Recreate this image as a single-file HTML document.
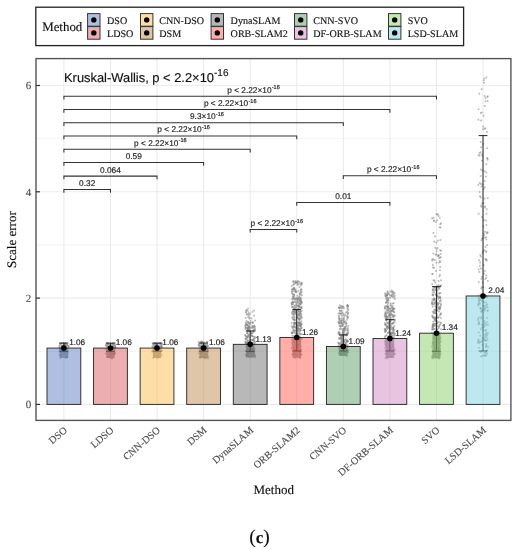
<!DOCTYPE html><html><head><meta charset="utf-8"><style>
html,body{margin:0;padding:0;background:#fff;}body{width:519px;height:550px;overflow:hidden;}
svg{display:block;}text{text-rendering:geometricPrecision;}
.s{font-family:"Liberation Sans",sans-serif;stroke:#222;stroke-width:0.16px;}
.r{font-family:"Liberation Serif",serif;stroke:#111;stroke-width:0.14px;}.g{stroke:#4d4d4d;}
</style></head><body>
<svg width="519" height="550" viewBox="0 0 519 550">
<defs><filter id="bl" filterUnits="userSpaceOnUse" x="0" y="0" width="519" height="550"><feGaussianBlur stdDeviation="0.45"/></filter></defs>
<rect x="0" y="0" width="519" height="550" fill="#fff"/>
<g filter="url(#bl)">
<rect x="35.8" y="7.2" width="427.8" height="38.4" fill="#fff" stroke="#222" stroke-width="1.3"/>
<text class="r" x="42.2" y="31.0" font-size="12.9" fill="#111">Method</text>
<rect x="87.6" y="13.6" width="12.4" height="12.6" fill="#afbfe1" stroke="#333" stroke-width="1"/>
<circle cx="93.8" cy="19.9" r="2.7" fill="#000"/>
<text class="r" x="107.0" y="23.5" font-size="10.1" fill="#111">DSO</text>
<rect x="87.6" y="26.6" width="12.4" height="12.6" fill="#edaeb2" stroke="#333" stroke-width="1"/>
<circle cx="93.8" cy="32.9" r="2.7" fill="#000"/>
<text class="r" x="107.0" y="36.7" font-size="10.1" fill="#111">LDSO</text>
<rect x="140.5" y="13.6" width="12.4" height="12.6" fill="#fedea7" stroke="#333" stroke-width="1"/>
<circle cx="146.7" cy="19.9" r="2.7" fill="#000"/>
<text class="r" x="159.3" y="23.5" font-size="10.1" fill="#111">CNN-DSO</text>
<rect x="140.5" y="26.6" width="12.4" height="12.6" fill="#dfc6a8" stroke="#333" stroke-width="1"/>
<circle cx="146.7" cy="32.9" r="2.7" fill="#000"/>
<text class="r" x="159.3" y="36.7" font-size="10.1" fill="#111">DSM</text>
<rect x="211.1" y="13.6" width="12.4" height="12.6" fill="#b7b7b7" stroke="#333" stroke-width="1"/>
<circle cx="217.3" cy="19.9" r="2.7" fill="#000"/>
<text class="r" x="230.6" y="23.5" font-size="10.1" fill="#111">DynaSLAM</text>
<rect x="211.1" y="26.6" width="12.4" height="12.6" fill="#ffaea8" stroke="#333" stroke-width="1"/>
<circle cx="217.3" cy="32.9" r="2.7" fill="#000"/>
<text class="r" x="230.6" y="36.7" font-size="10.1" fill="#111">ORB-SLAM2</text>
<rect x="294.5" y="13.6" width="12.4" height="12.6" fill="#aecfb4" stroke="#333" stroke-width="1"/>
<circle cx="300.7" cy="19.9" r="2.7" fill="#000"/>
<text class="r" x="313.2" y="23.5" font-size="10.1" fill="#111">CNN-SVO</text>
<rect x="294.5" y="26.6" width="12.4" height="12.6" fill="#e8c4e0" stroke="#333" stroke-width="1"/>
<circle cx="300.7" cy="32.9" r="2.7" fill="#000"/>
<text class="r" x="313.2" y="36.7" font-size="10.1" fill="#111">DF-ORB-SLAM</text>
<rect x="388.5" y="13.6" width="12.4" height="12.6" fill="#c4e7b4" stroke="#333" stroke-width="1"/>
<circle cx="394.7" cy="19.9" r="2.7" fill="#000"/>
<text class="r" x="407.7" y="23.5" font-size="10.1" fill="#111">SVO</text>
<rect x="388.5" y="26.6" width="12.4" height="12.6" fill="#bde8f0" stroke="#333" stroke-width="1"/>
<circle cx="394.7" cy="32.9" r="2.7" fill="#000"/>
<text class="r" x="407.7" y="36.7" font-size="10.1" fill="#111">LSD-SLAM</text>
<g stroke="#ebebeb" fill="none">
<line x1="36.0" x2="510.9" y1="351.25" y2="351.25" stroke-width="0.6"/>
<line x1="36.0" x2="510.9" y1="244.95" y2="244.95" stroke-width="0.6"/>
<line x1="36.0" x2="510.9" y1="138.65" y2="138.65" stroke-width="0.6"/>
<line x1="36.0" x2="510.9" y1="404.40" y2="404.40" stroke-width="1.1"/>
<line x1="36.0" x2="510.9" y1="298.10" y2="298.10" stroke-width="1.1"/>
<line x1="36.0" x2="510.9" y1="191.80" y2="191.80" stroke-width="1.1"/>
<line x1="36.0" x2="510.9" y1="85.50" y2="85.50" stroke-width="1.1"/>
<line x1="63.90" x2="63.90" y1="58.6" y2="420.4" stroke-width="1.1"/>
<line x1="110.47" x2="110.47" y1="58.6" y2="420.4" stroke-width="1.1"/>
<line x1="157.04" x2="157.04" y1="58.6" y2="420.4" stroke-width="1.1"/>
<line x1="203.61" x2="203.61" y1="58.6" y2="420.4" stroke-width="1.1"/>
<line x1="250.18" x2="250.18" y1="58.6" y2="420.4" stroke-width="1.1"/>
<line x1="296.75" x2="296.75" y1="58.6" y2="420.4" stroke-width="1.1"/>
<line x1="343.32" x2="343.32" y1="58.6" y2="420.4" stroke-width="1.1"/>
<line x1="389.89" x2="389.89" y1="58.6" y2="420.4" stroke-width="1.1"/>
<line x1="436.46" x2="436.46" y1="58.6" y2="420.4" stroke-width="1.1"/>
<line x1="483.03" x2="483.03" y1="58.6" y2="420.4" stroke-width="1.1"/>
</g>
<rect x="59.70" y="348.06" width="8.40" height="9.94" fill="#9a9a9a"/>
<rect x="106.27" y="348.06" width="8.40" height="9.94" fill="#9a9a9a"/>
<rect x="152.84" y="348.06" width="8.40" height="9.94" fill="#9a9a9a"/>
<rect x="199.41" y="348.06" width="8.40" height="9.94" fill="#9a9a9a"/>
<rect x="245.98" y="344.34" width="8.40" height="13.06" fill="#9a9a9a"/>
<rect x="292.45" y="337.43" width="8.60" height="20.37" fill="#9a9a9a"/>
<rect x="339.12" y="346.47" width="8.40" height="9.53" fill="#9a9a9a"/>
<rect x="385.59" y="338.49" width="8.60" height="19.51" fill="#9a9a9a"/>
<rect x="432.46" y="333.18" width="8.00" height="24.82" fill="#9a9a9a"/>
<g fill="#858585" fill-opacity="0.54">
<circle cx="60.4" cy="344.6" r="1.0"/>
<circle cx="59.6" cy="346.3" r="1.0"/>
<circle cx="62.6" cy="345.7" r="1.0"/>
<circle cx="64.0" cy="343.3" r="1.0"/>
<circle cx="63.2" cy="343.2" r="1.0"/>
<circle cx="59.8" cy="343.3" r="1.0"/>
<circle cx="67.2" cy="345.1" r="1.0"/>
<circle cx="61.1" cy="343.6" r="1.0"/>
<circle cx="68.4" cy="346.1" r="1.0"/>
<circle cx="62.9" cy="345.9" r="1.0"/>
<circle cx="59.4" cy="347.9" r="1.0"/>
<circle cx="61.8" cy="347.3" r="1.0"/>
<circle cx="60.1" cy="343.7" r="1.0"/>
<circle cx="67.1" cy="344.5" r="1.0"/>
<circle cx="64.7" cy="343.9" r="1.0"/>
<circle cx="62.6" cy="346.2" r="1.0"/>
<circle cx="59.5" cy="345.7" r="1.0"/>
<circle cx="61.0" cy="343.3" r="1.0"/>
<circle cx="63.2" cy="346.4" r="1.0"/>
<circle cx="64.8" cy="344.6" r="1.0"/>
<circle cx="61.9" cy="345.3" r="1.0"/>
<circle cx="65.9" cy="347.0" r="1.0"/>
<circle cx="64.6" cy="344.2" r="1.0"/>
<circle cx="67.7" cy="345.6" r="1.0"/>
<circle cx="61.8" cy="346.6" r="1.0"/>
<circle cx="60.1" cy="347.9" r="1.0"/>
<circle cx="66.5" cy="345.1" r="1.0"/>
<circle cx="63.8" cy="343.8" r="1.0"/>
<circle cx="65.6" cy="343.2" r="1.0"/>
<circle cx="64.6" cy="346.8" r="1.0"/>
<circle cx="62.0" cy="347.4" r="1.0"/>
<circle cx="64.8" cy="346.5" r="1.0"/>
<circle cx="63.5" cy="345.9" r="1.0"/>
<circle cx="68.3" cy="347.2" r="1.0"/>
<circle cx="65.5" cy="345.4" r="1.0"/>
<circle cx="65.9" cy="343.3" r="1.0"/>
<circle cx="68.8" cy="346.2" r="1.0"/>
<circle cx="61.7" cy="347.1" r="1.0"/>
<circle cx="65.6" cy="344.9" r="1.0"/>
<circle cx="63.5" cy="343.1" r="1.0"/>
<circle cx="60.1" cy="349.8" r="1.0"/>
<circle cx="66.6" cy="348.7" r="1.0"/>
<circle cx="61.4" cy="349.4" r="1.0"/>
<circle cx="67.6" cy="352.2" r="1.0"/>
<circle cx="63.4" cy="348.9" r="1.0"/>
<circle cx="67.7" cy="353.9" r="1.0"/>
<circle cx="67.5" cy="356.7" r="1.0"/>
<circle cx="63.1" cy="351.0" r="1.0"/>
<circle cx="67.7" cy="351.8" r="1.0"/>
<circle cx="60.4" cy="358.2" r="1.0"/>
<circle cx="61.2" cy="349.9" r="1.0"/>
<circle cx="63.7" cy="350.5" r="1.0"/>
<circle cx="61.5" cy="354.3" r="1.0"/>
<circle cx="63.1" cy="348.1" r="1.0"/>
<circle cx="64.6" cy="352.0" r="1.0"/>
<circle cx="65.8" cy="358.1" r="1.0"/>
<circle cx="65.1" cy="353.5" r="1.0"/>
<circle cx="59.4" cy="355.2" r="1.0"/>
<circle cx="66.7" cy="357.5" r="1.0"/>
<circle cx="66.9" cy="357.3" r="1.0"/>
<circle cx="62.9" cy="352.2" r="1.0"/>
<circle cx="65.2" cy="349.2" r="1.0"/>
<circle cx="59.6" cy="348.7" r="1.0"/>
<circle cx="60.5" cy="350.3" r="1.0"/>
<circle cx="59.4" cy="351.6" r="1.0"/>
<circle cx="60.4" cy="348.1" r="1.0"/>
<circle cx="62.5" cy="349.1" r="1.0"/>
<circle cx="67.6" cy="348.3" r="1.0"/>
<circle cx="60.4" cy="354.5" r="1.0"/>
<circle cx="62.4" cy="350.7" r="1.0"/>
<circle cx="60.1" cy="351.9" r="1.0"/>
<circle cx="115.4" cy="347.2" r="1.0"/>
<circle cx="110.3" cy="345.3" r="1.0"/>
<circle cx="106.5" cy="343.4" r="1.0"/>
<circle cx="108.1" cy="344.7" r="1.0"/>
<circle cx="107.1" cy="347.1" r="1.0"/>
<circle cx="115.0" cy="343.1" r="1.0"/>
<circle cx="106.9" cy="345.6" r="1.0"/>
<circle cx="105.7" cy="345.7" r="1.0"/>
<circle cx="115.3" cy="345.6" r="1.0"/>
<circle cx="112.4" cy="347.3" r="1.0"/>
<circle cx="109.1" cy="344.3" r="1.0"/>
<circle cx="113.2" cy="343.8" r="1.0"/>
<circle cx="113.3" cy="345.7" r="1.0"/>
<circle cx="107.7" cy="344.6" r="1.0"/>
<circle cx="115.3" cy="347.1" r="1.0"/>
<circle cx="113.5" cy="347.3" r="1.0"/>
<circle cx="112.9" cy="347.1" r="1.0"/>
<circle cx="110.6" cy="344.1" r="1.0"/>
<circle cx="105.8" cy="344.8" r="1.0"/>
<circle cx="108.3" cy="343.1" r="1.0"/>
<circle cx="112.4" cy="344.3" r="1.0"/>
<circle cx="109.9" cy="347.8" r="1.0"/>
<circle cx="115.4" cy="347.7" r="1.0"/>
<circle cx="109.1" cy="347.8" r="1.0"/>
<circle cx="107.7" cy="344.1" r="1.0"/>
<circle cx="107.5" cy="344.0" r="1.0"/>
<circle cx="114.5" cy="346.1" r="1.0"/>
<circle cx="110.3" cy="347.2" r="1.0"/>
<circle cx="113.5" cy="346.3" r="1.0"/>
<circle cx="112.1" cy="343.4" r="1.0"/>
<circle cx="113.3" cy="347.5" r="1.0"/>
<circle cx="110.3" cy="346.8" r="1.0"/>
<circle cx="113.4" cy="343.9" r="1.0"/>
<circle cx="113.5" cy="344.7" r="1.0"/>
<circle cx="109.4" cy="347.9" r="1.0"/>
<circle cx="114.9" cy="345.0" r="1.0"/>
<circle cx="107.2" cy="346.6" r="1.0"/>
<circle cx="107.0" cy="343.6" r="1.0"/>
<circle cx="113.5" cy="347.5" r="1.0"/>
<circle cx="113.7" cy="343.7" r="1.0"/>
<circle cx="112.0" cy="358.4" r="1.0"/>
<circle cx="111.0" cy="351.8" r="1.0"/>
<circle cx="105.6" cy="349.4" r="1.0"/>
<circle cx="112.0" cy="358.3" r="1.0"/>
<circle cx="114.8" cy="353.6" r="1.0"/>
<circle cx="114.2" cy="352.6" r="1.0"/>
<circle cx="107.6" cy="356.8" r="1.0"/>
<circle cx="108.4" cy="350.7" r="1.0"/>
<circle cx="111.3" cy="350.6" r="1.0"/>
<circle cx="109.7" cy="350.8" r="1.0"/>
<circle cx="114.6" cy="349.4" r="1.0"/>
<circle cx="110.1" cy="351.8" r="1.0"/>
<circle cx="114.5" cy="354.2" r="1.0"/>
<circle cx="114.6" cy="352.5" r="1.0"/>
<circle cx="110.8" cy="353.3" r="1.0"/>
<circle cx="105.7" cy="353.6" r="1.0"/>
<circle cx="107.3" cy="352.7" r="1.0"/>
<circle cx="113.5" cy="348.1" r="1.0"/>
<circle cx="110.2" cy="349.9" r="1.0"/>
<circle cx="111.0" cy="355.7" r="1.0"/>
<circle cx="110.7" cy="351.5" r="1.0"/>
<circle cx="113.3" cy="353.9" r="1.0"/>
<circle cx="111.1" cy="349.2" r="1.0"/>
<circle cx="108.2" cy="350.7" r="1.0"/>
<circle cx="110.5" cy="356.2" r="1.0"/>
<circle cx="113.1" cy="354.0" r="1.0"/>
<circle cx="109.9" cy="357.7" r="1.0"/>
<circle cx="110.5" cy="354.5" r="1.0"/>
<circle cx="112.4" cy="353.5" r="1.0"/>
<circle cx="110.8" cy="352.8" r="1.0"/>
<circle cx="114.9" cy="353.1" r="1.0"/>
<circle cx="160.8" cy="346.5" r="1.0"/>
<circle cx="154.6" cy="347.7" r="1.0"/>
<circle cx="161.5" cy="345.8" r="1.0"/>
<circle cx="153.4" cy="347.2" r="1.0"/>
<circle cx="156.5" cy="343.6" r="1.0"/>
<circle cx="154.4" cy="343.4" r="1.0"/>
<circle cx="158.7" cy="343.4" r="1.0"/>
<circle cx="161.0" cy="346.9" r="1.0"/>
<circle cx="159.2" cy="343.8" r="1.0"/>
<circle cx="153.5" cy="346.3" r="1.0"/>
<circle cx="161.7" cy="347.4" r="1.0"/>
<circle cx="161.6" cy="344.1" r="1.0"/>
<circle cx="156.9" cy="345.0" r="1.0"/>
<circle cx="160.4" cy="347.9" r="1.0"/>
<circle cx="156.4" cy="343.8" r="1.0"/>
<circle cx="155.4" cy="345.6" r="1.0"/>
<circle cx="155.2" cy="344.0" r="1.0"/>
<circle cx="152.2" cy="346.6" r="1.0"/>
<circle cx="156.4" cy="345.8" r="1.0"/>
<circle cx="155.4" cy="343.1" r="1.0"/>
<circle cx="157.2" cy="346.1" r="1.0"/>
<circle cx="161.9" cy="343.3" r="1.0"/>
<circle cx="161.8" cy="346.9" r="1.0"/>
<circle cx="154.7" cy="343.5" r="1.0"/>
<circle cx="159.8" cy="343.2" r="1.0"/>
<circle cx="153.3" cy="344.4" r="1.0"/>
<circle cx="161.2" cy="345.1" r="1.0"/>
<circle cx="154.6" cy="347.1" r="1.0"/>
<circle cx="161.2" cy="343.7" r="1.0"/>
<circle cx="159.0" cy="345.9" r="1.0"/>
<circle cx="152.6" cy="343.4" r="1.0"/>
<circle cx="156.3" cy="346.4" r="1.0"/>
<circle cx="161.4" cy="343.4" r="1.0"/>
<circle cx="160.1" cy="346.2" r="1.0"/>
<circle cx="160.6" cy="343.4" r="1.0"/>
<circle cx="160.7" cy="343.3" r="1.0"/>
<circle cx="155.4" cy="345.3" r="1.0"/>
<circle cx="161.3" cy="345.8" r="1.0"/>
<circle cx="153.3" cy="344.3" r="1.0"/>
<circle cx="154.4" cy="345.6" r="1.0"/>
<circle cx="153.7" cy="349.2" r="1.0"/>
<circle cx="154.1" cy="348.6" r="1.0"/>
<circle cx="155.1" cy="351.3" r="1.0"/>
<circle cx="154.9" cy="356.1" r="1.0"/>
<circle cx="153.8" cy="353.3" r="1.0"/>
<circle cx="152.2" cy="351.7" r="1.0"/>
<circle cx="152.2" cy="350.7" r="1.0"/>
<circle cx="157.6" cy="355.8" r="1.0"/>
<circle cx="156.8" cy="350.1" r="1.0"/>
<circle cx="153.1" cy="357.9" r="1.0"/>
<circle cx="156.4" cy="356.7" r="1.0"/>
<circle cx="160.4" cy="353.3" r="1.0"/>
<circle cx="157.1" cy="352.2" r="1.0"/>
<circle cx="161.9" cy="355.3" r="1.0"/>
<circle cx="160.4" cy="351.7" r="1.0"/>
<circle cx="158.4" cy="355.5" r="1.0"/>
<circle cx="155.5" cy="352.3" r="1.0"/>
<circle cx="153.3" cy="348.6" r="1.0"/>
<circle cx="159.4" cy="348.8" r="1.0"/>
<circle cx="153.7" cy="350.8" r="1.0"/>
<circle cx="160.5" cy="349.0" r="1.0"/>
<circle cx="158.7" cy="357.2" r="1.0"/>
<circle cx="154.5" cy="351.0" r="1.0"/>
<circle cx="156.6" cy="351.1" r="1.0"/>
<circle cx="156.5" cy="349.7" r="1.0"/>
<circle cx="161.7" cy="350.8" r="1.0"/>
<circle cx="157.5" cy="358.3" r="1.0"/>
<circle cx="161.7" cy="350.6" r="1.0"/>
<circle cx="155.6" cy="351.3" r="1.0"/>
<circle cx="155.9" cy="348.1" r="1.0"/>
<circle cx="157.1" cy="353.1" r="1.0"/>
<circle cx="203.7" cy="342.8" r="1.0"/>
<circle cx="201.3" cy="341.5" r="1.0"/>
<circle cx="202.6" cy="342.1" r="1.0"/>
<circle cx="198.8" cy="341.8" r="1.0"/>
<circle cx="200.9" cy="343.5" r="1.0"/>
<circle cx="203.9" cy="345.3" r="1.0"/>
<circle cx="205.2" cy="346.4" r="1.0"/>
<circle cx="207.4" cy="346.2" r="1.0"/>
<circle cx="201.9" cy="344.0" r="1.0"/>
<circle cx="200.1" cy="347.9" r="1.0"/>
<circle cx="205.0" cy="346.2" r="1.0"/>
<circle cx="207.0" cy="341.8" r="1.0"/>
<circle cx="204.9" cy="347.3" r="1.0"/>
<circle cx="206.7" cy="346.3" r="1.0"/>
<circle cx="203.8" cy="342.4" r="1.0"/>
<circle cx="207.0" cy="344.8" r="1.0"/>
<circle cx="206.9" cy="346.7" r="1.0"/>
<circle cx="207.5" cy="345.3" r="1.0"/>
<circle cx="205.5" cy="345.9" r="1.0"/>
<circle cx="198.9" cy="343.0" r="1.0"/>
<circle cx="202.2" cy="342.4" r="1.0"/>
<circle cx="207.0" cy="342.2" r="1.0"/>
<circle cx="204.9" cy="345.1" r="1.0"/>
<circle cx="205.4" cy="345.6" r="1.0"/>
<circle cx="198.6" cy="344.7" r="1.0"/>
<circle cx="206.1" cy="346.7" r="1.0"/>
<circle cx="204.0" cy="344.8" r="1.0"/>
<circle cx="199.3" cy="345.8" r="1.0"/>
<circle cx="201.1" cy="346.3" r="1.0"/>
<circle cx="201.3" cy="342.0" r="1.0"/>
<circle cx="200.7" cy="346.2" r="1.0"/>
<circle cx="208.4" cy="346.3" r="1.0"/>
<circle cx="202.4" cy="344.7" r="1.0"/>
<circle cx="205.4" cy="344.6" r="1.0"/>
<circle cx="204.8" cy="346.5" r="1.0"/>
<circle cx="199.4" cy="345.7" r="1.0"/>
<circle cx="201.1" cy="342.5" r="1.0"/>
<circle cx="201.7" cy="346.3" r="1.0"/>
<circle cx="198.7" cy="345.2" r="1.0"/>
<circle cx="201.3" cy="341.9" r="1.0"/>
<circle cx="205.5" cy="345.9" r="1.0"/>
<circle cx="201.5" cy="345.9" r="1.0"/>
<circle cx="203.3" cy="344.9" r="1.0"/>
<circle cx="199.8" cy="344.5" r="1.0"/>
<circle cx="200.6" cy="347.3" r="1.0"/>
<circle cx="208.0" cy="358.4" r="1.0"/>
<circle cx="203.2" cy="348.2" r="1.0"/>
<circle cx="208.3" cy="356.7" r="1.0"/>
<circle cx="201.3" cy="352.8" r="1.0"/>
<circle cx="208.1" cy="350.3" r="1.0"/>
<circle cx="204.4" cy="350.3" r="1.0"/>
<circle cx="203.9" cy="349.6" r="1.0"/>
<circle cx="199.9" cy="358.1" r="1.0"/>
<circle cx="203.7" cy="356.7" r="1.0"/>
<circle cx="205.6" cy="357.4" r="1.0"/>
<circle cx="207.6" cy="350.5" r="1.0"/>
<circle cx="198.9" cy="353.2" r="1.0"/>
<circle cx="203.5" cy="348.1" r="1.0"/>
<circle cx="201.6" cy="352.8" r="1.0"/>
<circle cx="202.0" cy="349.5" r="1.0"/>
<circle cx="207.0" cy="351.4" r="1.0"/>
<circle cx="206.1" cy="348.1" r="1.0"/>
<circle cx="199.8" cy="356.9" r="1.0"/>
<circle cx="205.7" cy="357.8" r="1.0"/>
<circle cx="201.5" cy="357.6" r="1.0"/>
<circle cx="202.5" cy="352.0" r="1.0"/>
<circle cx="204.5" cy="358.6" r="1.0"/>
<circle cx="202.9" cy="351.9" r="1.0"/>
<circle cx="199.1" cy="351.0" r="1.0"/>
<circle cx="207.0" cy="349.1" r="1.0"/>
<circle cx="208.0" cy="351.1" r="1.0"/>
<circle cx="201.3" cy="350.7" r="1.0"/>
<circle cx="200.5" cy="353.4" r="1.0"/>
<circle cx="208.2" cy="352.0" r="1.0"/>
<circle cx="206.7" cy="357.4" r="1.0"/>
<circle cx="207.7" cy="354.7" r="1.0"/>
<circle cx="250.7" cy="321.1" r="1.0"/>
<circle cx="245.7" cy="317.9" r="1.0"/>
<circle cx="249.7" cy="318.1" r="1.0"/>
<circle cx="251.6" cy="318.4" r="1.0"/>
<circle cx="245.7" cy="311.7" r="1.0"/>
<circle cx="246.5" cy="320.9" r="1.0"/>
<circle cx="248.6" cy="314.3" r="1.0"/>
<circle cx="252.6" cy="311.8" r="1.0"/>
<circle cx="247.8" cy="321.7" r="1.0"/>
<circle cx="248.2" cy="317.0" r="1.0"/>
<circle cx="249.1" cy="315.6" r="1.0"/>
<circle cx="246.8" cy="309.9" r="1.0"/>
<circle cx="254.2" cy="310.5" r="1.0"/>
<circle cx="247.4" cy="314.7" r="1.0"/>
<circle cx="255.1" cy="320.6" r="1.0"/>
<circle cx="246.6" cy="314.0" r="1.0"/>
<circle cx="246.1" cy="310.3" r="1.0"/>
<circle cx="246.1" cy="312.5" r="1.0"/>
<circle cx="247.8" cy="311.0" r="1.0"/>
<circle cx="254.1" cy="315.8" r="1.0"/>
<circle cx="249.3" cy="318.4" r="1.0"/>
<circle cx="250.4" cy="313.5" r="1.0"/>
<circle cx="248.6" cy="313.0" r="1.0"/>
<circle cx="248.0" cy="308.4" r="1.0"/>
<circle cx="246.4" cy="343.6" r="1.0"/>
<circle cx="251.5" cy="333.2" r="1.0"/>
<circle cx="247.3" cy="341.2" r="1.0"/>
<circle cx="247.7" cy="328.0" r="1.0"/>
<circle cx="249.6" cy="330.9" r="1.0"/>
<circle cx="253.7" cy="343.3" r="1.0"/>
<circle cx="245.4" cy="341.5" r="1.0"/>
<circle cx="252.3" cy="322.7" r="1.0"/>
<circle cx="249.9" cy="342.0" r="1.0"/>
<circle cx="245.2" cy="335.1" r="1.0"/>
<circle cx="254.4" cy="330.7" r="1.0"/>
<circle cx="253.7" cy="340.4" r="1.0"/>
<circle cx="247.7" cy="343.7" r="1.0"/>
<circle cx="246.7" cy="324.4" r="1.0"/>
<circle cx="252.0" cy="333.6" r="1.0"/>
<circle cx="252.4" cy="343.0" r="1.0"/>
<circle cx="252.8" cy="336.4" r="1.0"/>
<circle cx="250.7" cy="332.2" r="1.0"/>
<circle cx="253.0" cy="322.9" r="1.0"/>
<circle cx="254.4" cy="327.2" r="1.0"/>
<circle cx="248.2" cy="336.4" r="1.0"/>
<circle cx="247.7" cy="324.9" r="1.0"/>
<circle cx="252.2" cy="336.2" r="1.0"/>
<circle cx="245.9" cy="324.5" r="1.0"/>
<circle cx="251.0" cy="333.7" r="1.0"/>
<circle cx="247.4" cy="330.7" r="1.0"/>
<circle cx="245.3" cy="335.4" r="1.0"/>
<circle cx="249.8" cy="328.7" r="1.0"/>
<circle cx="251.6" cy="343.4" r="1.0"/>
<circle cx="249.9" cy="341.7" r="1.0"/>
<circle cx="247.7" cy="327.2" r="1.0"/>
<circle cx="252.2" cy="343.4" r="1.0"/>
<circle cx="245.4" cy="328.9" r="1.0"/>
<circle cx="251.9" cy="333.1" r="1.0"/>
<circle cx="247.8" cy="331.4" r="1.0"/>
<circle cx="254.4" cy="336.9" r="1.0"/>
<circle cx="245.5" cy="327.1" r="1.0"/>
<circle cx="249.4" cy="329.5" r="1.0"/>
<circle cx="247.2" cy="337.2" r="1.0"/>
<circle cx="252.6" cy="339.8" r="1.0"/>
<circle cx="247.2" cy="333.3" r="1.0"/>
<circle cx="248.3" cy="343.6" r="1.0"/>
<circle cx="247.5" cy="340.3" r="1.0"/>
<circle cx="252.8" cy="326.9" r="1.0"/>
<circle cx="254.7" cy="328.6" r="1.0"/>
<circle cx="247.1" cy="333.1" r="1.0"/>
<circle cx="249.4" cy="327.0" r="1.0"/>
<circle cx="254.7" cy="336.8" r="1.0"/>
<circle cx="249.1" cy="325.3" r="1.0"/>
<circle cx="254.9" cy="326.7" r="1.0"/>
<circle cx="245.7" cy="325.2" r="1.0"/>
<circle cx="249.1" cy="323.3" r="1.0"/>
<circle cx="254.0" cy="342.0" r="1.0"/>
<circle cx="255.2" cy="338.3" r="1.0"/>
<circle cx="248.5" cy="342.8" r="1.0"/>
<circle cx="254.5" cy="326.1" r="1.0"/>
<circle cx="245.5" cy="338.6" r="1.0"/>
<circle cx="249.0" cy="336.8" r="1.0"/>
<circle cx="248.5" cy="330.3" r="1.0"/>
<circle cx="245.2" cy="325.8" r="1.0"/>
<circle cx="248.7" cy="328.2" r="1.0"/>
<circle cx="246.4" cy="343.3" r="1.0"/>
<circle cx="247.3" cy="343.5" r="1.0"/>
<circle cx="253.4" cy="330.0" r="1.0"/>
<circle cx="249.5" cy="340.3" r="1.0"/>
<circle cx="249.9" cy="323.1" r="1.0"/>
<circle cx="254.4" cy="330.3" r="1.0"/>
<circle cx="248.8" cy="326.3" r="1.0"/>
<circle cx="245.5" cy="342.0" r="1.0"/>
<circle cx="253.3" cy="331.2" r="1.0"/>
<circle cx="245.6" cy="339.1" r="1.0"/>
<circle cx="245.8" cy="322.8" r="1.0"/>
<circle cx="247.8" cy="342.5" r="1.0"/>
<circle cx="254.2" cy="338.7" r="1.0"/>
<circle cx="247.9" cy="329.6" r="1.0"/>
<circle cx="251.3" cy="343.4" r="1.0"/>
<circle cx="252.3" cy="327.8" r="1.0"/>
<circle cx="247.9" cy="329.1" r="1.0"/>
<circle cx="252.7" cy="322.1" r="1.0"/>
<circle cx="251.5" cy="342.4" r="1.0"/>
<circle cx="245.4" cy="343.0" r="1.0"/>
<circle cx="249.9" cy="327.2" r="1.0"/>
<circle cx="254.7" cy="343.3" r="1.0"/>
<circle cx="247.7" cy="330.6" r="1.0"/>
<circle cx="250.1" cy="331.6" r="1.0"/>
<circle cx="247.0" cy="342.7" r="1.0"/>
<circle cx="252.6" cy="339.9" r="1.0"/>
<circle cx="252.9" cy="340.3" r="1.0"/>
<circle cx="248.5" cy="335.5" r="1.0"/>
<circle cx="248.8" cy="329.1" r="1.0"/>
<circle cx="246.0" cy="339.4" r="1.0"/>
<circle cx="252.7" cy="326.4" r="1.0"/>
<circle cx="245.8" cy="327.5" r="1.0"/>
<circle cx="250.7" cy="322.8" r="1.0"/>
<circle cx="255.0" cy="329.3" r="1.0"/>
<circle cx="255.1" cy="341.7" r="1.0"/>
<circle cx="246.0" cy="327.9" r="1.0"/>
<circle cx="250.2" cy="324.2" r="1.0"/>
<circle cx="249.6" cy="337.8" r="1.0"/>
<circle cx="249.3" cy="327.2" r="1.0"/>
<circle cx="251.9" cy="335.8" r="1.0"/>
<circle cx="253.6" cy="338.7" r="1.0"/>
<circle cx="246.4" cy="336.8" r="1.0"/>
<circle cx="248.1" cy="340.8" r="1.0"/>
<circle cx="248.9" cy="334.6" r="1.0"/>
<circle cx="247.2" cy="338.5" r="1.0"/>
<circle cx="247.6" cy="327.5" r="1.0"/>
<circle cx="254.0" cy="325.4" r="1.0"/>
<circle cx="248.4" cy="334.9" r="1.0"/>
<circle cx="255.1" cy="330.8" r="1.0"/>
<circle cx="247.5" cy="333.3" r="1.0"/>
<circle cx="251.7" cy="340.0" r="1.0"/>
<circle cx="246.2" cy="344.1" r="1.0"/>
<circle cx="253.4" cy="332.6" r="1.0"/>
<circle cx="254.3" cy="340.7" r="1.0"/>
<circle cx="248.1" cy="322.9" r="1.0"/>
<circle cx="247.1" cy="324.7" r="1.0"/>
<circle cx="251.0" cy="343.7" r="1.0"/>
<circle cx="248.9" cy="342.7" r="1.0"/>
<circle cx="249.7" cy="341.3" r="1.0"/>
<circle cx="253.0" cy="327.8" r="1.0"/>
<circle cx="246.2" cy="343.1" r="1.0"/>
<circle cx="251.4" cy="335.3" r="1.0"/>
<circle cx="248.9" cy="326.9" r="1.0"/>
<circle cx="247.2" cy="325.2" r="1.0"/>
<circle cx="251.2" cy="327.7" r="1.0"/>
<circle cx="247.2" cy="336.5" r="1.0"/>
<circle cx="248.5" cy="322.3" r="1.0"/>
<circle cx="247.0" cy="337.1" r="1.0"/>
<circle cx="247.2" cy="329.0" r="1.0"/>
<circle cx="250.7" cy="339.7" r="1.0"/>
<circle cx="246.2" cy="323.4" r="1.0"/>
<circle cx="250.7" cy="330.8" r="1.0"/>
<circle cx="246.1" cy="336.3" r="1.0"/>
<circle cx="252.1" cy="325.7" r="1.0"/>
<circle cx="248.0" cy="331.1" r="1.0"/>
<circle cx="254.7" cy="348.5" r="1.0"/>
<circle cx="250.8" cy="348.6" r="1.0"/>
<circle cx="249.3" cy="349.2" r="1.0"/>
<circle cx="255.1" cy="356.1" r="1.0"/>
<circle cx="247.2" cy="349.3" r="1.0"/>
<circle cx="247.2" cy="354.3" r="1.0"/>
<circle cx="254.2" cy="344.4" r="1.0"/>
<circle cx="253.4" cy="350.1" r="1.0"/>
<circle cx="254.0" cy="349.9" r="1.0"/>
<circle cx="246.8" cy="350.6" r="1.0"/>
<circle cx="250.7" cy="344.5" r="1.0"/>
<circle cx="254.3" cy="353.1" r="1.0"/>
<circle cx="251.4" cy="345.6" r="1.0"/>
<circle cx="250.2" cy="349.4" r="1.0"/>
<circle cx="248.0" cy="346.3" r="1.0"/>
<circle cx="254.4" cy="351.5" r="1.0"/>
<circle cx="250.1" cy="345.8" r="1.0"/>
<circle cx="254.8" cy="355.3" r="1.0"/>
<circle cx="246.4" cy="347.0" r="1.0"/>
<circle cx="254.9" cy="357.2" r="1.0"/>
<circle cx="245.7" cy="350.9" r="1.0"/>
<circle cx="249.1" cy="357.0" r="1.0"/>
<circle cx="251.4" cy="356.7" r="1.0"/>
<circle cx="246.8" cy="355.6" r="1.0"/>
<circle cx="247.4" cy="355.1" r="1.0"/>
<circle cx="253.6" cy="349.9" r="1.0"/>
<circle cx="247.0" cy="355.7" r="1.0"/>
<circle cx="249.2" cy="347.3" r="1.0"/>
<circle cx="249.0" cy="351.4" r="1.0"/>
<circle cx="247.7" cy="346.0" r="1.0"/>
<circle cx="254.2" cy="354.2" r="1.0"/>
<circle cx="250.8" cy="344.9" r="1.0"/>
<circle cx="245.6" cy="354.7" r="1.0"/>
<circle cx="246.4" cy="355.8" r="1.0"/>
<circle cx="250.7" cy="352.5" r="1.0"/>
<circle cx="248.2" cy="352.9" r="1.0"/>
<circle cx="251.0" cy="350.1" r="1.0"/>
<circle cx="251.8" cy="350.2" r="1.0"/>
<circle cx="249.6" cy="350.4" r="1.0"/>
<circle cx="251.4" cy="344.7" r="1.0"/>
<circle cx="294.0" cy="289.3" r="1.0"/>
<circle cx="299.7" cy="294.0" r="1.0"/>
<circle cx="293.4" cy="288.8" r="1.0"/>
<circle cx="292.7" cy="289.0" r="1.0"/>
<circle cx="296.0" cy="283.2" r="1.0"/>
<circle cx="296.1" cy="282.6" r="1.0"/>
<circle cx="292.0" cy="289.7" r="1.0"/>
<circle cx="292.4" cy="291.8" r="1.0"/>
<circle cx="299.6" cy="293.5" r="1.0"/>
<circle cx="292.1" cy="289.7" r="1.0"/>
<circle cx="295.5" cy="289.6" r="1.0"/>
<circle cx="293.0" cy="297.2" r="1.0"/>
<circle cx="301.9" cy="295.6" r="1.0"/>
<circle cx="300.0" cy="293.4" r="1.0"/>
<circle cx="301.8" cy="284.3" r="1.0"/>
<circle cx="301.5" cy="289.4" r="1.0"/>
<circle cx="293.3" cy="296.6" r="1.0"/>
<circle cx="301.2" cy="294.4" r="1.0"/>
<circle cx="295.2" cy="282.1" r="1.0"/>
<circle cx="293.2" cy="293.9" r="1.0"/>
<circle cx="294.4" cy="296.2" r="1.0"/>
<circle cx="293.0" cy="294.9" r="1.0"/>
<circle cx="301.1" cy="289.5" r="1.0"/>
<circle cx="294.3" cy="284.5" r="1.0"/>
<circle cx="294.9" cy="289.6" r="1.0"/>
<circle cx="293.4" cy="281.6" r="1.0"/>
<circle cx="301.3" cy="283.7" r="1.0"/>
<circle cx="300.9" cy="292.6" r="1.0"/>
<circle cx="299.7" cy="283.9" r="1.0"/>
<circle cx="297.1" cy="283.0" r="1.0"/>
<circle cx="295.3" cy="291.8" r="1.0"/>
<circle cx="297.3" cy="295.8" r="1.0"/>
<circle cx="300.7" cy="290.9" r="1.0"/>
<circle cx="301.9" cy="282.8" r="1.0"/>
<circle cx="295.7" cy="291.7" r="1.0"/>
<circle cx="294.3" cy="294.6" r="1.0"/>
<circle cx="297.6" cy="297.8" r="1.0"/>
<circle cx="299.5" cy="287.1" r="1.0"/>
<circle cx="293.4" cy="288.5" r="1.0"/>
<circle cx="292.1" cy="293.6" r="1.0"/>
<circle cx="294.2" cy="294.9" r="1.0"/>
<circle cx="301.8" cy="291.9" r="1.0"/>
<circle cx="298.5" cy="291.0" r="1.0"/>
<circle cx="291.6" cy="286.3" r="1.0"/>
<circle cx="293.1" cy="281.6" r="1.0"/>
<circle cx="296.0" cy="291.5" r="1.0"/>
<circle cx="300.9" cy="289.7" r="1.0"/>
<circle cx="293.9" cy="283.2" r="1.0"/>
<circle cx="291.8" cy="292.1" r="1.0"/>
<circle cx="295.2" cy="281.0" r="1.0"/>
<circle cx="295.3" cy="282.8" r="1.0"/>
<circle cx="297.6" cy="284.8" r="1.0"/>
<circle cx="293.7" cy="291.0" r="1.0"/>
<circle cx="296.5" cy="291.6" r="1.0"/>
<circle cx="301.3" cy="283.3" r="1.0"/>
<circle cx="293.1" cy="285.1" r="1.0"/>
<circle cx="298.2" cy="282.6" r="1.0"/>
<circle cx="299.7" cy="295.8" r="1.0"/>
<circle cx="294.3" cy="287.8" r="1.0"/>
<circle cx="298.3" cy="281.2" r="1.0"/>
<circle cx="295.2" cy="290.6" r="1.0"/>
<circle cx="296.2" cy="292.0" r="1.0"/>
<circle cx="299.2" cy="296.9" r="1.0"/>
<circle cx="300.9" cy="285.2" r="1.0"/>
<circle cx="297.1" cy="281.7" r="1.0"/>
<circle cx="294.0" cy="287.9" r="1.0"/>
<circle cx="299.7" cy="282.0" r="1.0"/>
<circle cx="297.3" cy="281.2" r="1.0"/>
<circle cx="293.0" cy="297.0" r="1.0"/>
<circle cx="297.9" cy="284.4" r="1.0"/>
<circle cx="298.2" cy="317.9" r="1.0"/>
<circle cx="293.4" cy="330.0" r="1.0"/>
<circle cx="294.7" cy="310.2" r="1.0"/>
<circle cx="300.8" cy="299.9" r="1.0"/>
<circle cx="299.0" cy="328.8" r="1.0"/>
<circle cx="300.3" cy="298.2" r="1.0"/>
<circle cx="296.4" cy="327.3" r="1.0"/>
<circle cx="296.3" cy="327.2" r="1.0"/>
<circle cx="292.6" cy="306.9" r="1.0"/>
<circle cx="292.0" cy="307.1" r="1.0"/>
<circle cx="299.3" cy="311.2" r="1.0"/>
<circle cx="300.3" cy="325.3" r="1.0"/>
<circle cx="294.3" cy="326.0" r="1.0"/>
<circle cx="296.1" cy="319.8" r="1.0"/>
<circle cx="297.0" cy="329.0" r="1.0"/>
<circle cx="298.2" cy="308.4" r="1.0"/>
<circle cx="293.8" cy="335.9" r="1.0"/>
<circle cx="291.7" cy="332.6" r="1.0"/>
<circle cx="294.0" cy="308.2" r="1.0"/>
<circle cx="301.4" cy="327.2" r="1.0"/>
<circle cx="294.9" cy="327.3" r="1.0"/>
<circle cx="295.0" cy="332.6" r="1.0"/>
<circle cx="301.0" cy="307.4" r="1.0"/>
<circle cx="298.8" cy="322.8" r="1.0"/>
<circle cx="301.7" cy="324.1" r="1.0"/>
<circle cx="300.3" cy="316.5" r="1.0"/>
<circle cx="300.5" cy="325.4" r="1.0"/>
<circle cx="299.1" cy="315.2" r="1.0"/>
<circle cx="294.8" cy="320.4" r="1.0"/>
<circle cx="298.0" cy="306.3" r="1.0"/>
<circle cx="301.0" cy="301.1" r="1.0"/>
<circle cx="291.8" cy="303.7" r="1.0"/>
<circle cx="301.2" cy="302.2" r="1.0"/>
<circle cx="293.0" cy="311.6" r="1.0"/>
<circle cx="292.0" cy="299.1" r="1.0"/>
<circle cx="298.1" cy="325.2" r="1.0"/>
<circle cx="299.2" cy="325.4" r="1.0"/>
<circle cx="297.7" cy="300.6" r="1.0"/>
<circle cx="300.1" cy="312.3" r="1.0"/>
<circle cx="300.8" cy="330.2" r="1.0"/>
<circle cx="300.6" cy="300.6" r="1.0"/>
<circle cx="301.4" cy="333.9" r="1.0"/>
<circle cx="293.7" cy="302.2" r="1.0"/>
<circle cx="291.9" cy="302.4" r="1.0"/>
<circle cx="300.0" cy="331.3" r="1.0"/>
<circle cx="300.1" cy="322.9" r="1.0"/>
<circle cx="294.5" cy="322.8" r="1.0"/>
<circle cx="292.6" cy="301.9" r="1.0"/>
<circle cx="293.7" cy="327.8" r="1.0"/>
<circle cx="296.0" cy="310.5" r="1.0"/>
<circle cx="294.2" cy="298.8" r="1.0"/>
<circle cx="299.0" cy="309.1" r="1.0"/>
<circle cx="294.9" cy="312.5" r="1.0"/>
<circle cx="296.8" cy="335.9" r="1.0"/>
<circle cx="298.0" cy="331.5" r="1.0"/>
<circle cx="295.8" cy="299.2" r="1.0"/>
<circle cx="299.6" cy="315.2" r="1.0"/>
<circle cx="298.9" cy="311.6" r="1.0"/>
<circle cx="293.8" cy="319.1" r="1.0"/>
<circle cx="292.5" cy="331.9" r="1.0"/>
<circle cx="293.3" cy="330.2" r="1.0"/>
<circle cx="293.7" cy="298.1" r="1.0"/>
<circle cx="301.7" cy="328.0" r="1.0"/>
<circle cx="296.7" cy="298.2" r="1.0"/>
<circle cx="299.8" cy="317.3" r="1.0"/>
<circle cx="296.7" cy="305.3" r="1.0"/>
<circle cx="300.2" cy="311.6" r="1.0"/>
<circle cx="301.4" cy="308.2" r="1.0"/>
<circle cx="293.8" cy="309.2" r="1.0"/>
<circle cx="296.7" cy="325.5" r="1.0"/>
<circle cx="298.2" cy="302.3" r="1.0"/>
<circle cx="299.7" cy="301.2" r="1.0"/>
<circle cx="299.7" cy="325.4" r="1.0"/>
<circle cx="295.2" cy="322.7" r="1.0"/>
<circle cx="295.7" cy="313.8" r="1.0"/>
<circle cx="292.4" cy="333.0" r="1.0"/>
<circle cx="291.8" cy="332.9" r="1.0"/>
<circle cx="294.3" cy="306.1" r="1.0"/>
<circle cx="296.8" cy="333.4" r="1.0"/>
<circle cx="300.7" cy="312.9" r="1.0"/>
<circle cx="296.3" cy="307.2" r="1.0"/>
<circle cx="299.4" cy="318.9" r="1.0"/>
<circle cx="298.3" cy="327.6" r="1.0"/>
<circle cx="294.9" cy="311.7" r="1.0"/>
<circle cx="300.3" cy="304.1" r="1.0"/>
<circle cx="299.3" cy="324.0" r="1.0"/>
<circle cx="296.1" cy="304.7" r="1.0"/>
<circle cx="297.6" cy="328.4" r="1.0"/>
<circle cx="296.4" cy="303.0" r="1.0"/>
<circle cx="294.0" cy="332.8" r="1.0"/>
<circle cx="294.7" cy="305.5" r="1.0"/>
<circle cx="300.3" cy="325.6" r="1.0"/>
<circle cx="293.2" cy="304.1" r="1.0"/>
<circle cx="294.9" cy="307.7" r="1.0"/>
<circle cx="293.2" cy="318.5" r="1.0"/>
<circle cx="293.5" cy="310.9" r="1.0"/>
<circle cx="299.1" cy="336.3" r="1.0"/>
<circle cx="301.6" cy="302.0" r="1.0"/>
<circle cx="295.5" cy="302.0" r="1.0"/>
<circle cx="299.8" cy="336.7" r="1.0"/>
<circle cx="296.1" cy="326.8" r="1.0"/>
<circle cx="298.2" cy="305.7" r="1.0"/>
<circle cx="293.7" cy="302.2" r="1.0"/>
<circle cx="291.9" cy="313.3" r="1.0"/>
<circle cx="299.8" cy="313.7" r="1.0"/>
<circle cx="296.8" cy="325.3" r="1.0"/>
<circle cx="296.4" cy="322.9" r="1.0"/>
<circle cx="297.8" cy="303.6" r="1.0"/>
<circle cx="299.3" cy="313.9" r="1.0"/>
<circle cx="296.0" cy="333.7" r="1.0"/>
<circle cx="299.3" cy="320.6" r="1.0"/>
<circle cx="293.9" cy="314.6" r="1.0"/>
<circle cx="300.7" cy="326.4" r="1.0"/>
<circle cx="298.8" cy="328.4" r="1.0"/>
<circle cx="298.6" cy="331.5" r="1.0"/>
<circle cx="296.3" cy="323.2" r="1.0"/>
<circle cx="298.1" cy="310.3" r="1.0"/>
<circle cx="295.9" cy="301.8" r="1.0"/>
<circle cx="299.0" cy="328.7" r="1.0"/>
<circle cx="294.2" cy="322.7" r="1.0"/>
<circle cx="296.3" cy="314.6" r="1.0"/>
<circle cx="295.8" cy="322.4" r="1.0"/>
<circle cx="301.2" cy="324.5" r="1.0"/>
<circle cx="298.4" cy="305.2" r="1.0"/>
<circle cx="295.6" cy="328.6" r="1.0"/>
<circle cx="301.7" cy="317.3" r="1.0"/>
<circle cx="297.2" cy="299.5" r="1.0"/>
<circle cx="299.7" cy="304.3" r="1.0"/>
<circle cx="296.9" cy="335.0" r="1.0"/>
<circle cx="297.5" cy="302.0" r="1.0"/>
<circle cx="299.0" cy="319.3" r="1.0"/>
<circle cx="298.2" cy="318.1" r="1.0"/>
<circle cx="297.0" cy="330.6" r="1.0"/>
<circle cx="301.4" cy="314.1" r="1.0"/>
<circle cx="298.7" cy="306.3" r="1.0"/>
<circle cx="299.5" cy="313.4" r="1.0"/>
<circle cx="301.8" cy="302.8" r="1.0"/>
<circle cx="292.1" cy="312.0" r="1.0"/>
<circle cx="295.7" cy="308.8" r="1.0"/>
<circle cx="295.9" cy="298.5" r="1.0"/>
<circle cx="298.8" cy="314.5" r="1.0"/>
<circle cx="294.3" cy="311.8" r="1.0"/>
<circle cx="299.3" cy="306.8" r="1.0"/>
<circle cx="297.0" cy="334.9" r="1.0"/>
<circle cx="299.9" cy="306.6" r="1.0"/>
<circle cx="293.8" cy="313.4" r="1.0"/>
<circle cx="299.6" cy="303.1" r="1.0"/>
<circle cx="298.1" cy="329.8" r="1.0"/>
<circle cx="297.4" cy="316.4" r="1.0"/>
<circle cx="301.6" cy="306.9" r="1.0"/>
<circle cx="298.2" cy="311.9" r="1.0"/>
<circle cx="300.0" cy="330.2" r="1.0"/>
<circle cx="294.6" cy="316.4" r="1.0"/>
<circle cx="292.9" cy="319.5" r="1.0"/>
<circle cx="295.2" cy="330.8" r="1.0"/>
<circle cx="294.3" cy="331.4" r="1.0"/>
<circle cx="294.2" cy="312.8" r="1.0"/>
<circle cx="293.5" cy="314.7" r="1.0"/>
<circle cx="299.1" cy="298.1" r="1.0"/>
<circle cx="294.1" cy="309.1" r="1.0"/>
<circle cx="296.5" cy="309.9" r="1.0"/>
<circle cx="298.2" cy="314.8" r="1.0"/>
<circle cx="295.3" cy="323.9" r="1.0"/>
<circle cx="300.4" cy="334.5" r="1.0"/>
<circle cx="300.2" cy="300.2" r="1.0"/>
<circle cx="299.7" cy="333.6" r="1.0"/>
<circle cx="300.2" cy="303.5" r="1.0"/>
<circle cx="291.7" cy="322.9" r="1.0"/>
<circle cx="301.4" cy="298.5" r="1.0"/>
<circle cx="294.2" cy="323.8" r="1.0"/>
<circle cx="293.0" cy="302.0" r="1.0"/>
<circle cx="299.6" cy="307.2" r="1.0"/>
<circle cx="293.1" cy="311.6" r="1.0"/>
<circle cx="299.8" cy="333.5" r="1.0"/>
<circle cx="300.8" cy="304.6" r="1.0"/>
<circle cx="299.7" cy="321.9" r="1.0"/>
<circle cx="300.8" cy="324.3" r="1.0"/>
<circle cx="300.3" cy="329.0" r="1.0"/>
<circle cx="298.8" cy="305.8" r="1.0"/>
<circle cx="299.3" cy="318.9" r="1.0"/>
<circle cx="300.7" cy="315.2" r="1.0"/>
<circle cx="294.3" cy="319.8" r="1.0"/>
<circle cx="293.0" cy="307.2" r="1.0"/>
<circle cx="292.2" cy="317.4" r="1.0"/>
<circle cx="293.1" cy="316.4" r="1.0"/>
<circle cx="296.7" cy="317.3" r="1.0"/>
<circle cx="300.5" cy="319.2" r="1.0"/>
<circle cx="300.3" cy="298.3" r="1.0"/>
<circle cx="297.4" cy="316.4" r="1.0"/>
<circle cx="300.3" cy="324.1" r="1.0"/>
<circle cx="295.9" cy="312.7" r="1.0"/>
<circle cx="292.3" cy="335.8" r="1.0"/>
<circle cx="298.2" cy="323.0" r="1.0"/>
<circle cx="297.9" cy="299.1" r="1.0"/>
<circle cx="301.2" cy="324.8" r="1.0"/>
<circle cx="301.8" cy="311.0" r="1.0"/>
<circle cx="296.6" cy="318.1" r="1.0"/>
<circle cx="291.9" cy="333.3" r="1.0"/>
<circle cx="298.1" cy="326.2" r="1.0"/>
<circle cx="300.5" cy="311.3" r="1.0"/>
<circle cx="296.5" cy="312.4" r="1.0"/>
<circle cx="299.6" cy="318.7" r="1.0"/>
<circle cx="296.1" cy="306.3" r="1.0"/>
<circle cx="297.3" cy="314.6" r="1.0"/>
<circle cx="294.6" cy="330.5" r="1.0"/>
<circle cx="295.7" cy="330.5" r="1.0"/>
<circle cx="294.4" cy="317.8" r="1.0"/>
<circle cx="301.7" cy="317.9" r="1.0"/>
<circle cx="299.8" cy="323.7" r="1.0"/>
<circle cx="294.8" cy="311.0" r="1.0"/>
<circle cx="297.6" cy="309.8" r="1.0"/>
<circle cx="299.7" cy="322.9" r="1.0"/>
<circle cx="299.1" cy="299.6" r="1.0"/>
<circle cx="297.2" cy="332.8" r="1.0"/>
<circle cx="294.7" cy="300.0" r="1.0"/>
<circle cx="293.5" cy="298.2" r="1.0"/>
<circle cx="297.9" cy="334.2" r="1.0"/>
<circle cx="299.8" cy="323.9" r="1.0"/>
<circle cx="297.9" cy="333.8" r="1.0"/>
<circle cx="298.1" cy="322.2" r="1.0"/>
<circle cx="297.8" cy="325.4" r="1.0"/>
<circle cx="293.8" cy="324.8" r="1.0"/>
<circle cx="296.3" cy="324.2" r="1.0"/>
<circle cx="292.6" cy="328.0" r="1.0"/>
<circle cx="291.9" cy="305.1" r="1.0"/>
<circle cx="301.1" cy="328.4" r="1.0"/>
<circle cx="295.4" cy="323.8" r="1.0"/>
<circle cx="299.7" cy="330.3" r="1.0"/>
<circle cx="294.2" cy="320.1" r="1.0"/>
<circle cx="295.9" cy="309.9" r="1.0"/>
<circle cx="296.0" cy="310.5" r="1.0"/>
<circle cx="301.3" cy="323.2" r="1.0"/>
<circle cx="297.5" cy="300.1" r="1.0"/>
<circle cx="292.8" cy="299.5" r="1.0"/>
<circle cx="297.5" cy="329.8" r="1.0"/>
<circle cx="296.2" cy="334.1" r="1.0"/>
<circle cx="295.6" cy="298.6" r="1.0"/>
<circle cx="301.3" cy="321.3" r="1.0"/>
<circle cx="296.5" cy="336.5" r="1.0"/>
<circle cx="292.6" cy="314.2" r="1.0"/>
<circle cx="293.8" cy="323.3" r="1.0"/>
<circle cx="291.7" cy="304.0" r="1.0"/>
<circle cx="298.7" cy="298.2" r="1.0"/>
<circle cx="301.6" cy="302.8" r="1.0"/>
<circle cx="300.6" cy="301.5" r="1.0"/>
<circle cx="291.7" cy="303.1" r="1.0"/>
<circle cx="294.1" cy="326.3" r="1.0"/>
<circle cx="293.5" cy="326.8" r="1.0"/>
<circle cx="299.6" cy="300.0" r="1.0"/>
<circle cx="300.4" cy="326.0" r="1.0"/>
<circle cx="292.4" cy="326.7" r="1.0"/>
<circle cx="298.9" cy="322.7" r="1.0"/>
<circle cx="301.2" cy="316.1" r="1.0"/>
<circle cx="301.6" cy="308.0" r="1.0"/>
<circle cx="291.7" cy="326.2" r="1.0"/>
<circle cx="298.3" cy="337.7" r="1.0"/>
<circle cx="292.4" cy="354.6" r="1.0"/>
<circle cx="299.1" cy="344.0" r="1.0"/>
<circle cx="300.5" cy="340.9" r="1.0"/>
<circle cx="292.2" cy="347.6" r="1.0"/>
<circle cx="297.5" cy="345.1" r="1.0"/>
<circle cx="298.6" cy="346.6" r="1.0"/>
<circle cx="299.8" cy="340.5" r="1.0"/>
<circle cx="298.3" cy="345.0" r="1.0"/>
<circle cx="295.9" cy="350.6" r="1.0"/>
<circle cx="299.7" cy="345.5" r="1.0"/>
<circle cx="299.7" cy="357.2" r="1.0"/>
<circle cx="294.6" cy="349.3" r="1.0"/>
<circle cx="301.7" cy="338.7" r="1.0"/>
<circle cx="300.2" cy="352.2" r="1.0"/>
<circle cx="297.9" cy="344.4" r="1.0"/>
<circle cx="300.2" cy="357.9" r="1.0"/>
<circle cx="294.8" cy="350.0" r="1.0"/>
<circle cx="300.8" cy="346.4" r="1.0"/>
<circle cx="298.7" cy="345.3" r="1.0"/>
<circle cx="300.9" cy="350.0" r="1.0"/>
<circle cx="294.5" cy="354.4" r="1.0"/>
<circle cx="294.3" cy="337.5" r="1.0"/>
<circle cx="297.7" cy="346.3" r="1.0"/>
<circle cx="300.8" cy="354.5" r="1.0"/>
<circle cx="300.2" cy="338.3" r="1.0"/>
<circle cx="300.6" cy="354.5" r="1.0"/>
<circle cx="294.4" cy="349.4" r="1.0"/>
<circle cx="299.9" cy="355.3" r="1.0"/>
<circle cx="301.1" cy="351.8" r="1.0"/>
<circle cx="292.4" cy="344.7" r="1.0"/>
<circle cx="299.8" cy="349.0" r="1.0"/>
<circle cx="299.4" cy="341.6" r="1.0"/>
<circle cx="294.0" cy="357.0" r="1.0"/>
<circle cx="298.6" cy="350.2" r="1.0"/>
<circle cx="293.7" cy="347.2" r="1.0"/>
<circle cx="299.4" cy="342.8" r="1.0"/>
<circle cx="296.3" cy="354.0" r="1.0"/>
<circle cx="299.9" cy="339.3" r="1.0"/>
<circle cx="294.0" cy="353.6" r="1.0"/>
<circle cx="300.9" cy="349.6" r="1.0"/>
<circle cx="297.0" cy="356.0" r="1.0"/>
<circle cx="297.7" cy="347.4" r="1.0"/>
<circle cx="293.6" cy="341.4" r="1.0"/>
<circle cx="298.8" cy="341.2" r="1.0"/>
<circle cx="297.4" cy="345.0" r="1.0"/>
<circle cx="296.9" cy="345.9" r="1.0"/>
<circle cx="292.0" cy="340.6" r="1.0"/>
<circle cx="295.4" cy="358.3" r="1.0"/>
<circle cx="298.1" cy="339.7" r="1.0"/>
<circle cx="293.2" cy="353.9" r="1.0"/>
<circle cx="295.1" cy="350.0" r="1.0"/>
<circle cx="291.8" cy="348.3" r="1.0"/>
<circle cx="301.9" cy="338.1" r="1.0"/>
<circle cx="296.6" cy="355.6" r="1.0"/>
<circle cx="294.3" cy="349.3" r="1.0"/>
<circle cx="296.0" cy="353.8" r="1.0"/>
<circle cx="299.5" cy="357.3" r="1.0"/>
<circle cx="301.6" cy="354.6" r="1.0"/>
<circle cx="291.9" cy="342.8" r="1.0"/>
<circle cx="293.4" cy="341.6" r="1.0"/>
<circle cx="292.1" cy="339.2" r="1.0"/>
<circle cx="347.0" cy="312.0" r="1.0"/>
<circle cx="347.8" cy="310.7" r="1.0"/>
<circle cx="339.0" cy="316.8" r="1.0"/>
<circle cx="342.3" cy="312.6" r="1.0"/>
<circle cx="347.9" cy="306.1" r="1.0"/>
<circle cx="344.0" cy="308.0" r="1.0"/>
<circle cx="347.9" cy="313.1" r="1.0"/>
<circle cx="342.3" cy="313.5" r="1.0"/>
<circle cx="339.9" cy="310.6" r="1.0"/>
<circle cx="348.2" cy="317.5" r="1.0"/>
<circle cx="338.7" cy="307.5" r="1.0"/>
<circle cx="341.8" cy="308.0" r="1.0"/>
<circle cx="347.4" cy="316.7" r="1.0"/>
<circle cx="338.8" cy="315.8" r="1.0"/>
<circle cx="345.4" cy="315.1" r="1.0"/>
<circle cx="348.2" cy="313.2" r="1.0"/>
<circle cx="339.8" cy="305.3" r="1.0"/>
<circle cx="347.7" cy="314.7" r="1.0"/>
<circle cx="341.3" cy="313.6" r="1.0"/>
<circle cx="345.9" cy="312.5" r="1.0"/>
<circle cx="341.6" cy="305.9" r="1.0"/>
<circle cx="339.6" cy="308.0" r="1.0"/>
<circle cx="340.0" cy="311.0" r="1.0"/>
<circle cx="339.8" cy="307.7" r="1.0"/>
<circle cx="338.4" cy="313.6" r="1.0"/>
<circle cx="340.3" cy="314.2" r="1.0"/>
<circle cx="347.6" cy="305.0" r="1.0"/>
<circle cx="347.7" cy="307.5" r="1.0"/>
<circle cx="347.2" cy="316.2" r="1.0"/>
<circle cx="342.8" cy="306.4" r="1.0"/>
<circle cx="347.6" cy="305.8" r="1.0"/>
<circle cx="344.6" cy="315.9" r="1.0"/>
<circle cx="341.7" cy="310.6" r="1.0"/>
<circle cx="343.1" cy="315.6" r="1.0"/>
<circle cx="339.7" cy="313.0" r="1.0"/>
<circle cx="338.9" cy="307.5" r="1.0"/>
<circle cx="343.9" cy="314.1" r="1.0"/>
<circle cx="347.0" cy="306.5" r="1.0"/>
<circle cx="342.4" cy="308.1" r="1.0"/>
<circle cx="341.0" cy="306.6" r="1.0"/>
<circle cx="341.7" cy="315.8" r="1.0"/>
<circle cx="343.2" cy="306.8" r="1.0"/>
<circle cx="347.4" cy="308.8" r="1.0"/>
<circle cx="348.1" cy="306.0" r="1.0"/>
<circle cx="347.3" cy="305.3" r="1.0"/>
<circle cx="340.4" cy="313.5" r="1.0"/>
<circle cx="341.2" cy="310.9" r="1.0"/>
<circle cx="340.3" cy="308.0" r="1.0"/>
<circle cx="348.2" cy="309.4" r="1.0"/>
<circle cx="347.6" cy="318.0" r="1.0"/>
<circle cx="341.2" cy="320.8" r="1.0"/>
<circle cx="338.9" cy="343.5" r="1.0"/>
<circle cx="341.3" cy="338.6" r="1.0"/>
<circle cx="338.5" cy="345.8" r="1.0"/>
<circle cx="341.7" cy="340.9" r="1.0"/>
<circle cx="338.3" cy="322.0" r="1.0"/>
<circle cx="343.6" cy="341.6" r="1.0"/>
<circle cx="342.7" cy="323.3" r="1.0"/>
<circle cx="340.5" cy="343.9" r="1.0"/>
<circle cx="339.7" cy="334.2" r="1.0"/>
<circle cx="346.0" cy="323.1" r="1.0"/>
<circle cx="340.3" cy="338.2" r="1.0"/>
<circle cx="339.2" cy="320.3" r="1.0"/>
<circle cx="343.3" cy="335.3" r="1.0"/>
<circle cx="340.4" cy="325.8" r="1.0"/>
<circle cx="345.4" cy="335.4" r="1.0"/>
<circle cx="344.1" cy="341.0" r="1.0"/>
<circle cx="339.0" cy="323.7" r="1.0"/>
<circle cx="342.4" cy="338.8" r="1.0"/>
<circle cx="338.9" cy="338.5" r="1.0"/>
<circle cx="341.7" cy="341.0" r="1.0"/>
<circle cx="347.0" cy="341.9" r="1.0"/>
<circle cx="338.5" cy="332.0" r="1.0"/>
<circle cx="343.1" cy="343.9" r="1.0"/>
<circle cx="341.0" cy="342.8" r="1.0"/>
<circle cx="346.6" cy="323.3" r="1.0"/>
<circle cx="340.0" cy="328.4" r="1.0"/>
<circle cx="344.3" cy="328.5" r="1.0"/>
<circle cx="343.5" cy="318.1" r="1.0"/>
<circle cx="343.5" cy="330.7" r="1.0"/>
<circle cx="345.5" cy="321.4" r="1.0"/>
<circle cx="347.0" cy="341.2" r="1.0"/>
<circle cx="345.4" cy="327.1" r="1.0"/>
<circle cx="345.8" cy="328.8" r="1.0"/>
<circle cx="347.0" cy="319.7" r="1.0"/>
<circle cx="343.3" cy="345.1" r="1.0"/>
<circle cx="343.6" cy="332.6" r="1.0"/>
<circle cx="338.5" cy="333.3" r="1.0"/>
<circle cx="340.6" cy="345.5" r="1.0"/>
<circle cx="339.3" cy="323.2" r="1.0"/>
<circle cx="346.5" cy="325.1" r="1.0"/>
<circle cx="339.3" cy="318.9" r="1.0"/>
<circle cx="340.3" cy="337.9" r="1.0"/>
<circle cx="344.3" cy="318.5" r="1.0"/>
<circle cx="343.5" cy="334.4" r="1.0"/>
<circle cx="339.3" cy="338.0" r="1.0"/>
<circle cx="345.5" cy="342.7" r="1.0"/>
<circle cx="339.6" cy="319.3" r="1.0"/>
<circle cx="343.3" cy="332.0" r="1.0"/>
<circle cx="339.5" cy="325.9" r="1.0"/>
<circle cx="339.7" cy="329.5" r="1.0"/>
<circle cx="346.9" cy="334.8" r="1.0"/>
<circle cx="344.0" cy="322.2" r="1.0"/>
<circle cx="340.0" cy="339.2" r="1.0"/>
<circle cx="347.7" cy="341.5" r="1.0"/>
<circle cx="342.5" cy="329.0" r="1.0"/>
<circle cx="343.6" cy="341.8" r="1.0"/>
<circle cx="347.7" cy="329.2" r="1.0"/>
<circle cx="341.7" cy="340.1" r="1.0"/>
<circle cx="341.7" cy="324.8" r="1.0"/>
<circle cx="348.1" cy="330.4" r="1.0"/>
<circle cx="347.4" cy="340.8" r="1.0"/>
<circle cx="346.8" cy="341.1" r="1.0"/>
<circle cx="343.5" cy="319.5" r="1.0"/>
<circle cx="347.7" cy="345.2" r="1.0"/>
<circle cx="342.5" cy="325.1" r="1.0"/>
<circle cx="342.0" cy="336.0" r="1.0"/>
<circle cx="339.0" cy="333.1" r="1.0"/>
<circle cx="343.4" cy="330.3" r="1.0"/>
<circle cx="339.7" cy="318.6" r="1.0"/>
<circle cx="346.1" cy="345.5" r="1.0"/>
<circle cx="344.7" cy="344.6" r="1.0"/>
<circle cx="347.2" cy="341.0" r="1.0"/>
<circle cx="338.7" cy="343.1" r="1.0"/>
<circle cx="341.0" cy="336.2" r="1.0"/>
<circle cx="341.1" cy="337.3" r="1.0"/>
<circle cx="347.6" cy="333.4" r="1.0"/>
<circle cx="340.8" cy="335.6" r="1.0"/>
<circle cx="342.7" cy="332.8" r="1.0"/>
<circle cx="341.2" cy="345.0" r="1.0"/>
<circle cx="344.8" cy="326.7" r="1.0"/>
<circle cx="344.3" cy="321.4" r="1.0"/>
<circle cx="343.5" cy="345.2" r="1.0"/>
<circle cx="343.0" cy="325.6" r="1.0"/>
<circle cx="339.8" cy="333.2" r="1.0"/>
<circle cx="339.6" cy="321.5" r="1.0"/>
<circle cx="342.4" cy="326.3" r="1.0"/>
<circle cx="340.8" cy="326.2" r="1.0"/>
<circle cx="343.8" cy="320.5" r="1.0"/>
<circle cx="344.4" cy="341.8" r="1.0"/>
<circle cx="344.8" cy="334.2" r="1.0"/>
<circle cx="345.4" cy="323.7" r="1.0"/>
<circle cx="343.8" cy="331.1" r="1.0"/>
<circle cx="343.0" cy="335.4" r="1.0"/>
<circle cx="340.7" cy="326.8" r="1.0"/>
<circle cx="343.4" cy="324.3" r="1.0"/>
<circle cx="344.2" cy="328.9" r="1.0"/>
<circle cx="341.8" cy="318.3" r="1.0"/>
<circle cx="340.7" cy="342.5" r="1.0"/>
<circle cx="343.2" cy="333.8" r="1.0"/>
<circle cx="348.2" cy="326.1" r="1.0"/>
<circle cx="346.0" cy="326.4" r="1.0"/>
<circle cx="339.0" cy="322.5" r="1.0"/>
<circle cx="342.7" cy="342.7" r="1.0"/>
<circle cx="342.2" cy="319.8" r="1.0"/>
<circle cx="345.7" cy="330.5" r="1.0"/>
<circle cx="340.6" cy="321.1" r="1.0"/>
<circle cx="345.7" cy="345.2" r="1.0"/>
<circle cx="341.7" cy="322.4" r="1.0"/>
<circle cx="345.1" cy="328.0" r="1.0"/>
<circle cx="346.8" cy="335.5" r="1.0"/>
<circle cx="343.5" cy="341.3" r="1.0"/>
<circle cx="345.8" cy="339.0" r="1.0"/>
<circle cx="343.1" cy="339.6" r="1.0"/>
<circle cx="345.4" cy="340.3" r="1.0"/>
<circle cx="339.6" cy="344.0" r="1.0"/>
<circle cx="338.4" cy="342.7" r="1.0"/>
<circle cx="344.2" cy="339.7" r="1.0"/>
<circle cx="347.9" cy="332.1" r="1.0"/>
<circle cx="342.5" cy="334.2" r="1.0"/>
<circle cx="347.0" cy="340.3" r="1.0"/>
<circle cx="342.1" cy="335.2" r="1.0"/>
<circle cx="342.9" cy="330.8" r="1.0"/>
<circle cx="341.2" cy="338.5" r="1.0"/>
<circle cx="343.9" cy="329.1" r="1.0"/>
<circle cx="341.5" cy="328.9" r="1.0"/>
<circle cx="346.8" cy="340.4" r="1.0"/>
<circle cx="342.8" cy="332.2" r="1.0"/>
<circle cx="341.4" cy="323.2" r="1.0"/>
<circle cx="344.1" cy="322.1" r="1.0"/>
<circle cx="339.2" cy="334.5" r="1.0"/>
<circle cx="341.6" cy="344.1" r="1.0"/>
<circle cx="346.7" cy="342.0" r="1.0"/>
<circle cx="340.4" cy="345.2" r="1.0"/>
<circle cx="347.4" cy="330.1" r="1.0"/>
<circle cx="338.8" cy="318.3" r="1.0"/>
<circle cx="343.3" cy="334.0" r="1.0"/>
<circle cx="346.1" cy="344.1" r="1.0"/>
<circle cx="348.3" cy="333.3" r="1.0"/>
<circle cx="343.5" cy="332.7" r="1.0"/>
<circle cx="342.2" cy="337.5" r="1.0"/>
<circle cx="344.3" cy="328.2" r="1.0"/>
<circle cx="347.8" cy="328.0" r="1.0"/>
<circle cx="343.6" cy="337.2" r="1.0"/>
<circle cx="342.1" cy="320.8" r="1.0"/>
<circle cx="343.9" cy="329.4" r="1.0"/>
<circle cx="347.1" cy="334.3" r="1.0"/>
<circle cx="343.2" cy="345.4" r="1.0"/>
<circle cx="344.6" cy="330.5" r="1.0"/>
<circle cx="341.8" cy="346.3" r="1.0"/>
<circle cx="346.5" cy="333.1" r="1.0"/>
<circle cx="341.5" cy="322.8" r="1.0"/>
<circle cx="346.6" cy="345.8" r="1.0"/>
<circle cx="339.4" cy="332.6" r="1.0"/>
<circle cx="345.2" cy="343.4" r="1.0"/>
<circle cx="348.2" cy="341.3" r="1.0"/>
<circle cx="342.5" cy="343.2" r="1.0"/>
<circle cx="341.2" cy="322.4" r="1.0"/>
<circle cx="343.4" cy="332.5" r="1.0"/>
<circle cx="340.1" cy="323.3" r="1.0"/>
<circle cx="344.4" cy="352.9" r="1.0"/>
<circle cx="348.3" cy="350.0" r="1.0"/>
<circle cx="338.7" cy="352.9" r="1.0"/>
<circle cx="346.2" cy="350.6" r="1.0"/>
<circle cx="345.2" cy="349.6" r="1.0"/>
<circle cx="341.4" cy="346.5" r="1.0"/>
<circle cx="344.2" cy="355.0" r="1.0"/>
<circle cx="340.3" cy="353.2" r="1.0"/>
<circle cx="343.9" cy="351.5" r="1.0"/>
<circle cx="344.8" cy="349.2" r="1.0"/>
<circle cx="348.3" cy="351.9" r="1.0"/>
<circle cx="342.4" cy="352.3" r="1.0"/>
<circle cx="339.9" cy="347.7" r="1.0"/>
<circle cx="339.4" cy="354.2" r="1.0"/>
<circle cx="340.0" cy="347.5" r="1.0"/>
<circle cx="346.6" cy="351.8" r="1.0"/>
<circle cx="346.4" cy="352.7" r="1.0"/>
<circle cx="338.4" cy="347.1" r="1.0"/>
<circle cx="341.5" cy="354.3" r="1.0"/>
<circle cx="341.9" cy="353.7" r="1.0"/>
<circle cx="341.0" cy="348.2" r="1.0"/>
<circle cx="347.4" cy="347.5" r="1.0"/>
<circle cx="341.8" cy="352.4" r="1.0"/>
<circle cx="342.2" cy="351.0" r="1.0"/>
<circle cx="347.2" cy="347.0" r="1.0"/>
<circle cx="347.9" cy="352.4" r="1.0"/>
<circle cx="344.5" cy="350.9" r="1.0"/>
<circle cx="338.8" cy="349.0" r="1.0"/>
<circle cx="346.9" cy="355.9" r="1.0"/>
<circle cx="347.3" cy="349.7" r="1.0"/>
<circle cx="387.8" cy="302.2" r="1.0"/>
<circle cx="394.7" cy="299.0" r="1.0"/>
<circle cx="394.6" cy="297.4" r="1.0"/>
<circle cx="388.7" cy="293.6" r="1.0"/>
<circle cx="387.0" cy="300.8" r="1.0"/>
<circle cx="393.8" cy="294.6" r="1.0"/>
<circle cx="392.9" cy="297.3" r="1.0"/>
<circle cx="386.5" cy="293.7" r="1.0"/>
<circle cx="386.6" cy="295.4" r="1.0"/>
<circle cx="387.7" cy="304.6" r="1.0"/>
<circle cx="385.9" cy="298.4" r="1.0"/>
<circle cx="388.7" cy="298.0" r="1.0"/>
<circle cx="385.4" cy="296.0" r="1.0"/>
<circle cx="393.3" cy="291.8" r="1.0"/>
<circle cx="387.2" cy="295.3" r="1.0"/>
<circle cx="387.6" cy="292.9" r="1.0"/>
<circle cx="385.1" cy="293.6" r="1.0"/>
<circle cx="388.2" cy="300.0" r="1.0"/>
<circle cx="392.0" cy="292.3" r="1.0"/>
<circle cx="387.5" cy="291.4" r="1.0"/>
<circle cx="386.0" cy="302.5" r="1.0"/>
<circle cx="393.4" cy="296.6" r="1.0"/>
<circle cx="386.3" cy="302.1" r="1.0"/>
<circle cx="392.2" cy="295.3" r="1.0"/>
<circle cx="394.7" cy="295.7" r="1.0"/>
<circle cx="394.6" cy="293.1" r="1.0"/>
<circle cx="387.1" cy="297.6" r="1.0"/>
<circle cx="386.1" cy="296.8" r="1.0"/>
<circle cx="387.4" cy="300.6" r="1.0"/>
<circle cx="390.8" cy="303.5" r="1.0"/>
<circle cx="387.3" cy="295.5" r="1.0"/>
<circle cx="386.9" cy="299.1" r="1.0"/>
<circle cx="386.0" cy="303.1" r="1.0"/>
<circle cx="390.3" cy="297.7" r="1.0"/>
<circle cx="392.7" cy="294.1" r="1.0"/>
<circle cx="391.5" cy="295.8" r="1.0"/>
<circle cx="387.9" cy="298.5" r="1.0"/>
<circle cx="385.6" cy="295.8" r="1.0"/>
<circle cx="393.5" cy="292.7" r="1.0"/>
<circle cx="391.6" cy="294.8" r="1.0"/>
<circle cx="390.5" cy="291.6" r="1.0"/>
<circle cx="389.9" cy="295.4" r="1.0"/>
<circle cx="385.4" cy="294.5" r="1.0"/>
<circle cx="387.0" cy="294.7" r="1.0"/>
<circle cx="392.1" cy="291.9" r="1.0"/>
<circle cx="388.9" cy="294.2" r="1.0"/>
<circle cx="392.7" cy="303.6" r="1.0"/>
<circle cx="393.6" cy="303.2" r="1.0"/>
<circle cx="387.6" cy="292.0" r="1.0"/>
<circle cx="391.8" cy="290.4" r="1.0"/>
<circle cx="388.3" cy="300.0" r="1.0"/>
<circle cx="391.5" cy="296.2" r="1.0"/>
<circle cx="387.3" cy="300.5" r="1.0"/>
<circle cx="388.4" cy="302.7" r="1.0"/>
<circle cx="386.6" cy="325.9" r="1.0"/>
<circle cx="394.2" cy="308.8" r="1.0"/>
<circle cx="392.1" cy="329.4" r="1.0"/>
<circle cx="385.1" cy="306.3" r="1.0"/>
<circle cx="386.8" cy="310.4" r="1.0"/>
<circle cx="388.6" cy="315.1" r="1.0"/>
<circle cx="387.9" cy="306.3" r="1.0"/>
<circle cx="386.6" cy="326.3" r="1.0"/>
<circle cx="390.6" cy="333.0" r="1.0"/>
<circle cx="387.3" cy="328.9" r="1.0"/>
<circle cx="391.8" cy="319.5" r="1.0"/>
<circle cx="384.7" cy="316.6" r="1.0"/>
<circle cx="392.8" cy="332.8" r="1.0"/>
<circle cx="385.1" cy="314.5" r="1.0"/>
<circle cx="391.0" cy="333.4" r="1.0"/>
<circle cx="387.2" cy="306.6" r="1.0"/>
<circle cx="392.9" cy="308.7" r="1.0"/>
<circle cx="394.2" cy="312.0" r="1.0"/>
<circle cx="385.6" cy="330.0" r="1.0"/>
<circle cx="388.8" cy="328.1" r="1.0"/>
<circle cx="393.3" cy="329.9" r="1.0"/>
<circle cx="385.6" cy="314.4" r="1.0"/>
<circle cx="389.1" cy="336.5" r="1.0"/>
<circle cx="391.9" cy="336.0" r="1.0"/>
<circle cx="393.3" cy="329.6" r="1.0"/>
<circle cx="389.4" cy="325.9" r="1.0"/>
<circle cx="392.0" cy="306.8" r="1.0"/>
<circle cx="390.0" cy="319.3" r="1.0"/>
<circle cx="386.0" cy="335.9" r="1.0"/>
<circle cx="385.1" cy="330.4" r="1.0"/>
<circle cx="393.1" cy="328.4" r="1.0"/>
<circle cx="390.4" cy="313.7" r="1.0"/>
<circle cx="391.3" cy="337.3" r="1.0"/>
<circle cx="387.3" cy="323.1" r="1.0"/>
<circle cx="388.4" cy="307.0" r="1.0"/>
<circle cx="386.8" cy="318.7" r="1.0"/>
<circle cx="386.1" cy="315.3" r="1.0"/>
<circle cx="391.7" cy="328.5" r="1.0"/>
<circle cx="387.2" cy="312.9" r="1.0"/>
<circle cx="389.3" cy="322.2" r="1.0"/>
<circle cx="388.3" cy="336.2" r="1.0"/>
<circle cx="393.9" cy="315.0" r="1.0"/>
<circle cx="390.5" cy="309.7" r="1.0"/>
<circle cx="393.2" cy="316.1" r="1.0"/>
<circle cx="392.6" cy="323.3" r="1.0"/>
<circle cx="391.6" cy="310.6" r="1.0"/>
<circle cx="389.5" cy="324.9" r="1.0"/>
<circle cx="393.3" cy="330.5" r="1.0"/>
<circle cx="387.7" cy="308.8" r="1.0"/>
<circle cx="386.8" cy="317.0" r="1.0"/>
<circle cx="387.6" cy="307.0" r="1.0"/>
<circle cx="392.0" cy="311.6" r="1.0"/>
<circle cx="385.9" cy="319.9" r="1.0"/>
<circle cx="389.6" cy="315.8" r="1.0"/>
<circle cx="386.4" cy="317.1" r="1.0"/>
<circle cx="384.8" cy="307.4" r="1.0"/>
<circle cx="392.5" cy="338.0" r="1.0"/>
<circle cx="392.1" cy="307.8" r="1.0"/>
<circle cx="390.6" cy="337.6" r="1.0"/>
<circle cx="389.8" cy="308.6" r="1.0"/>
<circle cx="386.7" cy="319.5" r="1.0"/>
<circle cx="384.8" cy="323.1" r="1.0"/>
<circle cx="391.4" cy="335.6" r="1.0"/>
<circle cx="394.4" cy="325.9" r="1.0"/>
<circle cx="387.3" cy="326.7" r="1.0"/>
<circle cx="386.1" cy="313.2" r="1.0"/>
<circle cx="392.7" cy="305.9" r="1.0"/>
<circle cx="387.8" cy="333.0" r="1.0"/>
<circle cx="391.3" cy="311.2" r="1.0"/>
<circle cx="394.3" cy="333.2" r="1.0"/>
<circle cx="392.9" cy="310.6" r="1.0"/>
<circle cx="392.4" cy="332.7" r="1.0"/>
<circle cx="386.6" cy="315.9" r="1.0"/>
<circle cx="388.0" cy="332.5" r="1.0"/>
<circle cx="390.4" cy="317.3" r="1.0"/>
<circle cx="393.3" cy="317.3" r="1.0"/>
<circle cx="385.1" cy="313.0" r="1.0"/>
<circle cx="391.2" cy="323.9" r="1.0"/>
<circle cx="392.0" cy="332.3" r="1.0"/>
<circle cx="394.5" cy="335.1" r="1.0"/>
<circle cx="389.9" cy="321.5" r="1.0"/>
<circle cx="387.8" cy="310.2" r="1.0"/>
<circle cx="385.5" cy="324.4" r="1.0"/>
<circle cx="386.4" cy="327.9" r="1.0"/>
<circle cx="394.8" cy="319.8" r="1.0"/>
<circle cx="385.1" cy="308.0" r="1.0"/>
<circle cx="386.7" cy="319.6" r="1.0"/>
<circle cx="384.7" cy="329.1" r="1.0"/>
<circle cx="393.6" cy="333.0" r="1.0"/>
<circle cx="389.1" cy="331.2" r="1.0"/>
<circle cx="391.6" cy="314.4" r="1.0"/>
<circle cx="389.1" cy="322.1" r="1.0"/>
<circle cx="389.3" cy="316.3" r="1.0"/>
<circle cx="393.3" cy="327.2" r="1.0"/>
<circle cx="386.4" cy="335.1" r="1.0"/>
<circle cx="389.3" cy="314.8" r="1.0"/>
<circle cx="388.3" cy="323.8" r="1.0"/>
<circle cx="385.6" cy="311.5" r="1.0"/>
<circle cx="389.5" cy="315.8" r="1.0"/>
<circle cx="394.1" cy="337.3" r="1.0"/>
<circle cx="394.8" cy="333.8" r="1.0"/>
<circle cx="391.1" cy="337.0" r="1.0"/>
<circle cx="385.3" cy="332.0" r="1.0"/>
<circle cx="391.0" cy="327.5" r="1.0"/>
<circle cx="390.6" cy="314.9" r="1.0"/>
<circle cx="389.7" cy="336.7" r="1.0"/>
<circle cx="387.8" cy="326.6" r="1.0"/>
<circle cx="393.9" cy="316.4" r="1.0"/>
<circle cx="386.7" cy="305.9" r="1.0"/>
<circle cx="389.3" cy="327.6" r="1.0"/>
<circle cx="391.6" cy="307.8" r="1.0"/>
<circle cx="390.7" cy="317.4" r="1.0"/>
<circle cx="390.2" cy="318.9" r="1.0"/>
<circle cx="388.8" cy="323.8" r="1.0"/>
<circle cx="386.6" cy="308.8" r="1.0"/>
<circle cx="390.4" cy="334.6" r="1.0"/>
<circle cx="393.7" cy="308.7" r="1.0"/>
<circle cx="385.7" cy="313.4" r="1.0"/>
<circle cx="387.3" cy="322.7" r="1.0"/>
<circle cx="390.5" cy="321.3" r="1.0"/>
<circle cx="390.6" cy="312.5" r="1.0"/>
<circle cx="390.0" cy="308.8" r="1.0"/>
<circle cx="385.5" cy="324.6" r="1.0"/>
<circle cx="385.5" cy="318.6" r="1.0"/>
<circle cx="393.7" cy="319.6" r="1.0"/>
<circle cx="392.1" cy="323.3" r="1.0"/>
<circle cx="385.9" cy="330.2" r="1.0"/>
<circle cx="392.2" cy="338.0" r="1.0"/>
<circle cx="393.3" cy="308.4" r="1.0"/>
<circle cx="386.5" cy="318.1" r="1.0"/>
<circle cx="390.5" cy="337.0" r="1.0"/>
<circle cx="386.1" cy="330.8" r="1.0"/>
<circle cx="385.3" cy="330.8" r="1.0"/>
<circle cx="388.6" cy="312.9" r="1.0"/>
<circle cx="390.9" cy="305.5" r="1.0"/>
<circle cx="387.8" cy="312.1" r="1.0"/>
<circle cx="389.1" cy="328.6" r="1.0"/>
<circle cx="391.2" cy="334.6" r="1.0"/>
<circle cx="390.5" cy="334.0" r="1.0"/>
<circle cx="393.7" cy="335.6" r="1.0"/>
<circle cx="392.4" cy="310.6" r="1.0"/>
<circle cx="392.6" cy="316.4" r="1.0"/>
<circle cx="393.3" cy="327.7" r="1.0"/>
<circle cx="388.6" cy="309.1" r="1.0"/>
<circle cx="394.5" cy="329.6" r="1.0"/>
<circle cx="385.1" cy="329.0" r="1.0"/>
<circle cx="385.7" cy="325.1" r="1.0"/>
<circle cx="393.0" cy="323.3" r="1.0"/>
<circle cx="394.3" cy="308.8" r="1.0"/>
<circle cx="387.3" cy="327.5" r="1.0"/>
<circle cx="389.3" cy="311.4" r="1.0"/>
<circle cx="390.7" cy="332.9" r="1.0"/>
<circle cx="384.9" cy="308.8" r="1.0"/>
<circle cx="393.0" cy="308.7" r="1.0"/>
<circle cx="390.5" cy="311.2" r="1.0"/>
<circle cx="391.8" cy="314.7" r="1.0"/>
<circle cx="386.2" cy="317.7" r="1.0"/>
<circle cx="390.3" cy="334.2" r="1.0"/>
<circle cx="393.1" cy="328.0" r="1.0"/>
<circle cx="384.8" cy="336.6" r="1.0"/>
<circle cx="386.3" cy="316.4" r="1.0"/>
<circle cx="393.8" cy="321.7" r="1.0"/>
<circle cx="385.1" cy="331.7" r="1.0"/>
<circle cx="393.2" cy="311.1" r="1.0"/>
<circle cx="388.8" cy="327.6" r="1.0"/>
<circle cx="386.3" cy="320.8" r="1.0"/>
<circle cx="388.8" cy="333.1" r="1.0"/>
<circle cx="391.0" cy="334.1" r="1.0"/>
<circle cx="388.1" cy="307.5" r="1.0"/>
<circle cx="394.0" cy="312.2" r="1.0"/>
<circle cx="385.1" cy="324.6" r="1.0"/>
<circle cx="388.4" cy="310.7" r="1.0"/>
<circle cx="390.7" cy="320.6" r="1.0"/>
<circle cx="388.4" cy="317.9" r="1.0"/>
<circle cx="390.7" cy="305.2" r="1.0"/>
<circle cx="384.9" cy="316.1" r="1.0"/>
<circle cx="394.9" cy="320.3" r="1.0"/>
<circle cx="386.2" cy="306.5" r="1.0"/>
<circle cx="387.5" cy="327.3" r="1.0"/>
<circle cx="389.9" cy="314.1" r="1.0"/>
<circle cx="390.6" cy="313.7" r="1.0"/>
<circle cx="394.6" cy="322.6" r="1.0"/>
<circle cx="385.0" cy="338.0" r="1.0"/>
<circle cx="392.7" cy="323.7" r="1.0"/>
<circle cx="392.7" cy="334.1" r="1.0"/>
<circle cx="391.3" cy="326.1" r="1.0"/>
<circle cx="387.6" cy="317.1" r="1.0"/>
<circle cx="393.8" cy="331.5" r="1.0"/>
<circle cx="391.8" cy="336.3" r="1.0"/>
<circle cx="392.6" cy="315.1" r="1.0"/>
<circle cx="390.0" cy="329.6" r="1.0"/>
<circle cx="388.3" cy="326.2" r="1.0"/>
<circle cx="388.9" cy="323.3" r="1.0"/>
<circle cx="388.2" cy="307.0" r="1.0"/>
<circle cx="395.0" cy="315.8" r="1.0"/>
<circle cx="388.5" cy="348.2" r="1.0"/>
<circle cx="387.1" cy="343.4" r="1.0"/>
<circle cx="386.1" cy="345.5" r="1.0"/>
<circle cx="393.7" cy="338.6" r="1.0"/>
<circle cx="389.3" cy="347.6" r="1.0"/>
<circle cx="387.8" cy="349.9" r="1.0"/>
<circle cx="385.4" cy="341.9" r="1.0"/>
<circle cx="387.9" cy="344.6" r="1.0"/>
<circle cx="390.4" cy="353.1" r="1.0"/>
<circle cx="388.2" cy="357.3" r="1.0"/>
<circle cx="390.8" cy="357.0" r="1.0"/>
<circle cx="386.5" cy="340.1" r="1.0"/>
<circle cx="395.0" cy="350.2" r="1.0"/>
<circle cx="392.7" cy="345.7" r="1.0"/>
<circle cx="393.7" cy="347.1" r="1.0"/>
<circle cx="389.7" cy="339.9" r="1.0"/>
<circle cx="387.6" cy="356.6" r="1.0"/>
<circle cx="384.9" cy="343.7" r="1.0"/>
<circle cx="387.5" cy="341.8" r="1.0"/>
<circle cx="387.0" cy="352.7" r="1.0"/>
<circle cx="386.8" cy="346.5" r="1.0"/>
<circle cx="393.7" cy="350.6" r="1.0"/>
<circle cx="386.7" cy="351.5" r="1.0"/>
<circle cx="394.7" cy="353.2" r="1.0"/>
<circle cx="385.5" cy="350.6" r="1.0"/>
<circle cx="393.8" cy="354.8" r="1.0"/>
<circle cx="386.1" cy="345.4" r="1.0"/>
<circle cx="390.3" cy="342.3" r="1.0"/>
<circle cx="391.3" cy="356.1" r="1.0"/>
<circle cx="386.9" cy="357.0" r="1.0"/>
<circle cx="392.5" cy="345.1" r="1.0"/>
<circle cx="388.9" cy="351.5" r="1.0"/>
<circle cx="388.2" cy="352.1" r="1.0"/>
<circle cx="389.0" cy="339.6" r="1.0"/>
<circle cx="391.2" cy="339.4" r="1.0"/>
<circle cx="389.8" cy="345.2" r="1.0"/>
<circle cx="387.4" cy="350.5" r="1.0"/>
<circle cx="384.8" cy="347.8" r="1.0"/>
<circle cx="390.6" cy="357.1" r="1.0"/>
<circle cx="385.3" cy="358.3" r="1.0"/>
<circle cx="392.2" cy="350.8" r="1.0"/>
<circle cx="385.7" cy="345.1" r="1.0"/>
<circle cx="386.2" cy="341.6" r="1.0"/>
<circle cx="385.6" cy="353.9" r="1.0"/>
<circle cx="389.1" cy="354.9" r="1.0"/>
<circle cx="390.8" cy="349.3" r="1.0"/>
<circle cx="391.5" cy="349.7" r="1.0"/>
<circle cx="388.1" cy="350.6" r="1.0"/>
<circle cx="387.4" cy="353.4" r="1.0"/>
<circle cx="392.6" cy="352.8" r="1.0"/>
<circle cx="387.9" cy="354.1" r="1.0"/>
<circle cx="394.9" cy="354.0" r="1.0"/>
<circle cx="387.6" cy="347.6" r="1.0"/>
<circle cx="394.5" cy="349.0" r="1.0"/>
<circle cx="384.8" cy="341.1" r="1.0"/>
<circle cx="391.5" cy="348.1" r="1.0"/>
<circle cx="388.5" cy="354.1" r="1.0"/>
<circle cx="387.1" cy="358.4" r="1.0"/>
<circle cx="385.6" cy="353.7" r="1.0"/>
<circle cx="386.1" cy="339.1" r="1.0"/>
<circle cx="436.5" cy="214.3" r="1.0"/>
<circle cx="433.5" cy="233.1" r="1.0"/>
<circle cx="435.2" cy="247.7" r="1.0"/>
<circle cx="433.5" cy="217.7" r="1.0"/>
<circle cx="440.3" cy="240.0" r="1.0"/>
<circle cx="432.1" cy="218.2" r="1.0"/>
<circle cx="434.1" cy="241.6" r="1.0"/>
<circle cx="436.5" cy="249.3" r="1.0"/>
<circle cx="435.0" cy="236.2" r="1.0"/>
<circle cx="436.1" cy="242.4" r="1.0"/>
<circle cx="440.2" cy="224.3" r="1.0"/>
<circle cx="438.6" cy="216.1" r="1.0"/>
<circle cx="437.8" cy="214.5" r="1.0"/>
<circle cx="439.8" cy="227.3" r="1.0"/>
<circle cx="437.1" cy="214.3" r="1.0"/>
<circle cx="440.3" cy="227.6" r="1.0"/>
<circle cx="437.6" cy="247.9" r="1.0"/>
<circle cx="434.2" cy="220.5" r="1.0"/>
<circle cx="435.9" cy="222.0" r="1.0"/>
<circle cx="433.7" cy="220.8" r="1.0"/>
<circle cx="437.8" cy="240.8" r="1.0"/>
<circle cx="441.0" cy="223.3" r="1.0"/>
<circle cx="437.1" cy="220.2" r="1.0"/>
<circle cx="439.8" cy="218.0" r="1.0"/>
<circle cx="434.3" cy="280.4" r="1.0"/>
<circle cx="439.4" cy="276.3" r="1.0"/>
<circle cx="434.9" cy="259.9" r="1.0"/>
<circle cx="440.1" cy="267.0" r="1.0"/>
<circle cx="438.1" cy="255.7" r="1.0"/>
<circle cx="436.0" cy="270.9" r="1.0"/>
<circle cx="440.0" cy="270.3" r="1.0"/>
<circle cx="440.0" cy="257.3" r="1.0"/>
<circle cx="439.0" cy="262.6" r="1.0"/>
<circle cx="433.5" cy="280.2" r="1.0"/>
<circle cx="441.0" cy="280.2" r="1.0"/>
<circle cx="432.1" cy="260.4" r="1.0"/>
<circle cx="440.8" cy="253.9" r="1.0"/>
<circle cx="440.2" cy="250.3" r="1.0"/>
<circle cx="438.6" cy="255.3" r="1.0"/>
<circle cx="433.4" cy="253.4" r="1.0"/>
<circle cx="432.7" cy="273.9" r="1.0"/>
<circle cx="440.3" cy="261.9" r="1.0"/>
<circle cx="440.0" cy="275.1" r="1.0"/>
<circle cx="432.2" cy="284.3" r="1.0"/>
<circle cx="439.1" cy="258.2" r="1.0"/>
<circle cx="432.2" cy="274.1" r="1.0"/>
<circle cx="434.0" cy="267.7" r="1.0"/>
<circle cx="432.8" cy="265.1" r="1.0"/>
<circle cx="441.0" cy="250.7" r="1.0"/>
<circle cx="439.9" cy="261.1" r="1.0"/>
<circle cx="436.3" cy="254.2" r="1.0"/>
<circle cx="435.8" cy="254.8" r="1.0"/>
<circle cx="438.2" cy="256.3" r="1.0"/>
<circle cx="438.7" cy="255.2" r="1.0"/>
<circle cx="432.9" cy="267.5" r="1.0"/>
<circle cx="436.4" cy="262.4" r="1.0"/>
<circle cx="435.1" cy="282.2" r="1.0"/>
<circle cx="440.8" cy="257.5" r="1.0"/>
<circle cx="438.6" cy="280.9" r="1.0"/>
<circle cx="433.5" cy="259.6" r="1.0"/>
<circle cx="432.5" cy="259.3" r="1.0"/>
<circle cx="436.5" cy="251.5" r="1.0"/>
<circle cx="437.0" cy="304.6" r="1.0"/>
<circle cx="432.0" cy="302.4" r="1.0"/>
<circle cx="437.9" cy="318.0" r="1.0"/>
<circle cx="436.9" cy="311.1" r="1.0"/>
<circle cx="440.9" cy="318.1" r="1.0"/>
<circle cx="438.5" cy="327.0" r="1.0"/>
<circle cx="434.8" cy="304.2" r="1.0"/>
<circle cx="440.8" cy="305.1" r="1.0"/>
<circle cx="435.4" cy="303.6" r="1.0"/>
<circle cx="433.2" cy="304.7" r="1.0"/>
<circle cx="431.9" cy="332.9" r="1.0"/>
<circle cx="440.4" cy="314.2" r="1.0"/>
<circle cx="437.5" cy="297.2" r="1.0"/>
<circle cx="434.1" cy="303.1" r="1.0"/>
<circle cx="432.9" cy="294.5" r="1.0"/>
<circle cx="439.1" cy="325.5" r="1.0"/>
<circle cx="432.3" cy="328.6" r="1.0"/>
<circle cx="434.8" cy="318.3" r="1.0"/>
<circle cx="436.9" cy="316.0" r="1.0"/>
<circle cx="440.8" cy="300.1" r="1.0"/>
<circle cx="438.7" cy="285.0" r="1.0"/>
<circle cx="436.6" cy="326.0" r="1.0"/>
<circle cx="441.0" cy="313.4" r="1.0"/>
<circle cx="437.7" cy="296.3" r="1.0"/>
<circle cx="435.3" cy="320.7" r="1.0"/>
<circle cx="435.5" cy="319.2" r="1.0"/>
<circle cx="437.5" cy="310.3" r="1.0"/>
<circle cx="434.8" cy="317.5" r="1.0"/>
<circle cx="436.9" cy="315.2" r="1.0"/>
<circle cx="437.5" cy="295.7" r="1.0"/>
<circle cx="440.2" cy="297.7" r="1.0"/>
<circle cx="438.5" cy="307.7" r="1.0"/>
<circle cx="436.2" cy="310.1" r="1.0"/>
<circle cx="433.2" cy="295.6" r="1.0"/>
<circle cx="436.7" cy="329.5" r="1.0"/>
<circle cx="436.7" cy="310.1" r="1.0"/>
<circle cx="434.1" cy="324.0" r="1.0"/>
<circle cx="439.4" cy="293.3" r="1.0"/>
<circle cx="437.8" cy="307.1" r="1.0"/>
<circle cx="440.1" cy="324.7" r="1.0"/>
<circle cx="432.3" cy="326.7" r="1.0"/>
<circle cx="439.5" cy="303.3" r="1.0"/>
<circle cx="433.0" cy="324.3" r="1.0"/>
<circle cx="434.2" cy="292.4" r="1.0"/>
<circle cx="435.1" cy="289.9" r="1.0"/>
<circle cx="436.7" cy="323.6" r="1.0"/>
<circle cx="432.7" cy="306.7" r="1.0"/>
<circle cx="441.0" cy="304.0" r="1.0"/>
<circle cx="436.0" cy="318.4" r="1.0"/>
<circle cx="439.2" cy="308.0" r="1.0"/>
<circle cx="433.2" cy="321.4" r="1.0"/>
<circle cx="435.2" cy="317.6" r="1.0"/>
<circle cx="434.0" cy="310.0" r="1.0"/>
<circle cx="435.0" cy="302.8" r="1.0"/>
<circle cx="432.0" cy="303.3" r="1.0"/>
<circle cx="437.1" cy="294.6" r="1.0"/>
<circle cx="433.5" cy="287.8" r="1.0"/>
<circle cx="434.4" cy="319.5" r="1.0"/>
<circle cx="434.1" cy="300.6" r="1.0"/>
<circle cx="432.7" cy="325.0" r="1.0"/>
<circle cx="439.8" cy="315.5" r="1.0"/>
<circle cx="435.8" cy="294.7" r="1.0"/>
<circle cx="437.5" cy="323.0" r="1.0"/>
<circle cx="432.3" cy="302.8" r="1.0"/>
<circle cx="435.2" cy="306.2" r="1.0"/>
<circle cx="434.6" cy="319.2" r="1.0"/>
<circle cx="437.8" cy="304.6" r="1.0"/>
<circle cx="435.1" cy="323.9" r="1.0"/>
<circle cx="437.2" cy="303.5" r="1.0"/>
<circle cx="433.6" cy="329.4" r="1.0"/>
<circle cx="438.4" cy="331.6" r="1.0"/>
<circle cx="438.0" cy="302.9" r="1.0"/>
<circle cx="432.5" cy="300.8" r="1.0"/>
<circle cx="435.4" cy="321.3" r="1.0"/>
<circle cx="436.4" cy="310.2" r="1.0"/>
<circle cx="438.8" cy="328.3" r="1.0"/>
<circle cx="437.3" cy="286.2" r="1.0"/>
<circle cx="436.1" cy="307.2" r="1.0"/>
<circle cx="435.7" cy="325.3" r="1.0"/>
<circle cx="440.1" cy="307.7" r="1.0"/>
<circle cx="436.4" cy="306.1" r="1.0"/>
<circle cx="439.4" cy="309.6" r="1.0"/>
<circle cx="438.7" cy="317.2" r="1.0"/>
<circle cx="432.2" cy="304.3" r="1.0"/>
<circle cx="437.0" cy="317.6" r="1.0"/>
<circle cx="438.9" cy="321.9" r="1.0"/>
<circle cx="433.9" cy="290.7" r="1.0"/>
<circle cx="439.4" cy="288.7" r="1.0"/>
<circle cx="432.7" cy="289.9" r="1.0"/>
<circle cx="437.1" cy="321.2" r="1.0"/>
<circle cx="438.1" cy="287.6" r="1.0"/>
<circle cx="436.3" cy="319.1" r="1.0"/>
<circle cx="438.2" cy="287.6" r="1.0"/>
<circle cx="437.2" cy="305.1" r="1.0"/>
<circle cx="439.4" cy="332.9" r="1.0"/>
<circle cx="433.2" cy="326.9" r="1.0"/>
<circle cx="436.6" cy="301.0" r="1.0"/>
<circle cx="441.0" cy="285.3" r="1.0"/>
<circle cx="434.3" cy="298.2" r="1.0"/>
<circle cx="434.2" cy="300.0" r="1.0"/>
<circle cx="437.0" cy="326.2" r="1.0"/>
<circle cx="435.7" cy="309.5" r="1.0"/>
<circle cx="434.7" cy="287.5" r="1.0"/>
<circle cx="439.2" cy="326.6" r="1.0"/>
<circle cx="434.2" cy="326.1" r="1.0"/>
<circle cx="432.3" cy="294.7" r="1.0"/>
<circle cx="435.3" cy="310.8" r="1.0"/>
<circle cx="436.4" cy="307.3" r="1.0"/>
<circle cx="435.2" cy="313.0" r="1.0"/>
<circle cx="433.7" cy="323.5" r="1.0"/>
<circle cx="437.0" cy="329.1" r="1.0"/>
<circle cx="434.8" cy="287.5" r="1.0"/>
<circle cx="435.6" cy="310.6" r="1.0"/>
<circle cx="434.8" cy="312.1" r="1.0"/>
<circle cx="439.2" cy="298.1" r="1.0"/>
<circle cx="438.4" cy="299.0" r="1.0"/>
<circle cx="437.3" cy="323.5" r="1.0"/>
<circle cx="440.5" cy="306.8" r="1.0"/>
<circle cx="439.9" cy="306.4" r="1.0"/>
<circle cx="435.9" cy="287.8" r="1.0"/>
<circle cx="432.3" cy="315.7" r="1.0"/>
<circle cx="432.5" cy="326.4" r="1.0"/>
<circle cx="433.5" cy="313.6" r="1.0"/>
<circle cx="437.0" cy="329.3" r="1.0"/>
<circle cx="436.4" cy="323.4" r="1.0"/>
<circle cx="438.1" cy="317.3" r="1.0"/>
<circle cx="433.8" cy="299.2" r="1.0"/>
<circle cx="433.2" cy="325.2" r="1.0"/>
<circle cx="433.8" cy="329.1" r="1.0"/>
<circle cx="432.7" cy="289.8" r="1.0"/>
<circle cx="440.6" cy="322.6" r="1.0"/>
<circle cx="437.9" cy="304.9" r="1.0"/>
<circle cx="440.2" cy="297.4" r="1.0"/>
<circle cx="433.3" cy="317.9" r="1.0"/>
<circle cx="438.3" cy="287.7" r="1.0"/>
<circle cx="439.6" cy="287.0" r="1.0"/>
<circle cx="434.0" cy="299.1" r="1.0"/>
<circle cx="434.8" cy="312.9" r="1.0"/>
<circle cx="433.3" cy="311.9" r="1.0"/>
<circle cx="434.8" cy="328.8" r="1.0"/>
<circle cx="433.3" cy="325.4" r="1.0"/>
<circle cx="440.9" cy="323.4" r="1.0"/>
<circle cx="432.2" cy="303.8" r="1.0"/>
<circle cx="437.8" cy="303.2" r="1.0"/>
<circle cx="436.9" cy="295.7" r="1.0"/>
<circle cx="436.1" cy="289.5" r="1.0"/>
<circle cx="435.8" cy="320.0" r="1.0"/>
<circle cx="432.9" cy="317.6" r="1.0"/>
<circle cx="433.0" cy="324.8" r="1.0"/>
<circle cx="441.0" cy="329.3" r="1.0"/>
<circle cx="436.7" cy="330.1" r="1.0"/>
<circle cx="435.1" cy="299.0" r="1.0"/>
<circle cx="436.4" cy="321.0" r="1.0"/>
<circle cx="432.7" cy="329.6" r="1.0"/>
<circle cx="439.8" cy="308.3" r="1.0"/>
<circle cx="436.8" cy="313.7" r="1.0"/>
<circle cx="433.1" cy="289.2" r="1.0"/>
<circle cx="440.1" cy="298.0" r="1.0"/>
<circle cx="434.0" cy="325.6" r="1.0"/>
<circle cx="432.2" cy="329.4" r="1.0"/>
<circle cx="440.8" cy="313.7" r="1.0"/>
<circle cx="440.5" cy="301.5" r="1.0"/>
<circle cx="432.3" cy="316.5" r="1.0"/>
<circle cx="436.0" cy="301.0" r="1.0"/>
<circle cx="438.7" cy="296.9" r="1.0"/>
<circle cx="439.1" cy="293.6" r="1.0"/>
<circle cx="432.5" cy="299.3" r="1.0"/>
<circle cx="432.7" cy="311.8" r="1.0"/>
<circle cx="439.1" cy="311.5" r="1.0"/>
<circle cx="436.1" cy="313.6" r="1.0"/>
<circle cx="436.6" cy="286.6" r="1.0"/>
<circle cx="437.8" cy="289.7" r="1.0"/>
<circle cx="437.2" cy="291.3" r="1.0"/>
<circle cx="435.3" cy="301.9" r="1.0"/>
<circle cx="433.4" cy="316.8" r="1.0"/>
<circle cx="440.5" cy="293.1" r="1.0"/>
<circle cx="439.6" cy="300.9" r="1.0"/>
<circle cx="436.3" cy="326.9" r="1.0"/>
<circle cx="432.7" cy="292.2" r="1.0"/>
<circle cx="432.9" cy="327.2" r="1.0"/>
<circle cx="436.8" cy="308.8" r="1.0"/>
<circle cx="436.2" cy="290.6" r="1.0"/>
<circle cx="436.8" cy="292.9" r="1.0"/>
<circle cx="435.2" cy="309.3" r="1.0"/>
<circle cx="435.6" cy="294.5" r="1.0"/>
<circle cx="433.0" cy="294.8" r="1.0"/>
<circle cx="439.9" cy="296.5" r="1.0"/>
<circle cx="440.1" cy="309.1" r="1.0"/>
<circle cx="440.5" cy="285.7" r="1.0"/>
<circle cx="439.1" cy="308.4" r="1.0"/>
<circle cx="438.2" cy="347.7" r="1.0"/>
<circle cx="438.8" cy="339.0" r="1.0"/>
<circle cx="434.3" cy="337.1" r="1.0"/>
<circle cx="435.5" cy="334.0" r="1.0"/>
<circle cx="434.5" cy="346.4" r="1.0"/>
<circle cx="432.6" cy="355.8" r="1.0"/>
<circle cx="434.0" cy="347.9" r="1.0"/>
<circle cx="439.1" cy="348.3" r="1.0"/>
<circle cx="432.4" cy="351.2" r="1.0"/>
<circle cx="437.4" cy="339.4" r="1.0"/>
<circle cx="432.2" cy="358.2" r="1.0"/>
<circle cx="438.2" cy="348.9" r="1.0"/>
<circle cx="435.0" cy="353.9" r="1.0"/>
<circle cx="436.1" cy="353.8" r="1.0"/>
<circle cx="432.0" cy="356.6" r="1.0"/>
<circle cx="435.7" cy="357.1" r="1.0"/>
<circle cx="432.7" cy="343.5" r="1.0"/>
<circle cx="438.6" cy="339.4" r="1.0"/>
<circle cx="433.3" cy="350.4" r="1.0"/>
<circle cx="433.2" cy="341.9" r="1.0"/>
<circle cx="433.9" cy="338.2" r="1.0"/>
<circle cx="440.8" cy="341.6" r="1.0"/>
<circle cx="439.1" cy="358.5" r="1.0"/>
<circle cx="436.4" cy="345.4" r="1.0"/>
<circle cx="440.2" cy="353.0" r="1.0"/>
<circle cx="437.7" cy="352.3" r="1.0"/>
<circle cx="437.6" cy="338.2" r="1.0"/>
<circle cx="439.1" cy="354.7" r="1.0"/>
<circle cx="438.5" cy="335.5" r="1.0"/>
<circle cx="433.4" cy="342.1" r="1.0"/>
<circle cx="438.0" cy="357.7" r="1.0"/>
<circle cx="433.1" cy="352.1" r="1.0"/>
<circle cx="440.5" cy="354.2" r="1.0"/>
<circle cx="438.7" cy="356.2" r="1.0"/>
<circle cx="439.2" cy="354.3" r="1.0"/>
<circle cx="435.9" cy="348.2" r="1.0"/>
<circle cx="439.1" cy="354.2" r="1.0"/>
<circle cx="434.6" cy="355.3" r="1.0"/>
<circle cx="436.8" cy="357.6" r="1.0"/>
<circle cx="432.9" cy="357.2" r="1.0"/>
<circle cx="439.1" cy="357.8" r="1.0"/>
<circle cx="439.6" cy="339.6" r="1.0"/>
<circle cx="433.7" cy="339.1" r="1.0"/>
<circle cx="434.0" cy="344.8" r="1.0"/>
<circle cx="440.2" cy="345.7" r="1.0"/>
<circle cx="438.4" cy="350.6" r="1.0"/>
<circle cx="439.1" cy="343.1" r="1.0"/>
<circle cx="438.1" cy="353.4" r="1.0"/>
<circle cx="439.5" cy="357.1" r="1.0"/>
<circle cx="432.7" cy="343.5" r="1.0"/>
<circle cx="439.6" cy="349.8" r="1.0"/>
<circle cx="437.3" cy="341.8" r="1.0"/>
<circle cx="439.2" cy="354.4" r="1.0"/>
<circle cx="436.4" cy="333.3" r="1.0"/>
<circle cx="432.9" cy="333.6" r="1.0"/>
<circle cx="435.7" cy="353.8" r="1.0"/>
<circle cx="436.1" cy="348.6" r="1.0"/>
<circle cx="433.8" cy="341.7" r="1.0"/>
<circle cx="439.6" cy="342.2" r="1.0"/>
<circle cx="434.5" cy="348.9" r="1.0"/>
<circle cx="434.4" cy="335.4" r="1.0"/>
<circle cx="435.9" cy="351.0" r="1.0"/>
<circle cx="439.3" cy="350.0" r="1.0"/>
<circle cx="438.1" cy="336.2" r="1.0"/>
<circle cx="439.4" cy="334.2" r="1.0"/>
<circle cx="434.4" cy="337.9" r="1.0"/>
<circle cx="435.2" cy="357.5" r="1.0"/>
<circle cx="440.0" cy="338.9" r="1.0"/>
<circle cx="440.1" cy="348.7" r="1.0"/>
<circle cx="436.5" cy="343.2" r="1.0"/>
<circle cx="436.5" cy="357.5" r="1.0"/>
<circle cx="433.6" cy="358.3" r="1.0"/>
<circle cx="433.4" cy="354.3" r="1.0"/>
<circle cx="431.9" cy="346.6" r="1.0"/>
<circle cx="440.6" cy="337.6" r="1.0"/>
<circle cx="439.3" cy="344.7" r="1.0"/>
<circle cx="481.6" cy="89.3" r="1.0"/>
<circle cx="483.6" cy="80.2" r="1.0"/>
<circle cx="483.2" cy="126.6" r="1.0"/>
<circle cx="487.3" cy="97.0" r="1.0"/>
<circle cx="484.7" cy="128.5" r="1.0"/>
<circle cx="484.3" cy="78.6" r="1.0"/>
<circle cx="487.6" cy="101.1" r="1.0"/>
<circle cx="484.6" cy="96.1" r="1.0"/>
<circle cx="481.8" cy="112.5" r="1.0"/>
<circle cx="484.8" cy="105.9" r="1.0"/>
<circle cx="483.0" cy="129.3" r="1.0"/>
<circle cx="487.8" cy="96.2" r="1.0"/>
<circle cx="486.4" cy="77.5" r="1.0"/>
<circle cx="483.6" cy="115.7" r="1.0"/>
<circle cx="485.5" cy="101.3" r="1.0"/>
<circle cx="485.3" cy="128.4" r="1.0"/>
<circle cx="478.4" cy="119.7" r="1.0"/>
<circle cx="479.4" cy="93.8" r="1.0"/>
<circle cx="486.9" cy="132.1" r="1.0"/>
<circle cx="483.9" cy="82.8" r="1.0"/>
<circle cx="478.5" cy="109.2" r="1.0"/>
<circle cx="485.5" cy="97.9" r="1.0"/>
<circle cx="480.8" cy="113.1" r="1.0"/>
<circle cx="480.9" cy="120.5" r="1.0"/>
<circle cx="482.2" cy="170.4" r="1.0"/>
<circle cx="484.5" cy="198.6" r="1.0"/>
<circle cx="484.8" cy="187.3" r="1.0"/>
<circle cx="487.7" cy="159.7" r="1.0"/>
<circle cx="484.9" cy="181.1" r="1.0"/>
<circle cx="479.6" cy="153.0" r="1.0"/>
<circle cx="486.3" cy="172.4" r="1.0"/>
<circle cx="481.5" cy="186.6" r="1.0"/>
<circle cx="483.2" cy="144.1" r="1.0"/>
<circle cx="479.7" cy="192.0" r="1.0"/>
<circle cx="479.7" cy="183.0" r="1.0"/>
<circle cx="478.6" cy="155.3" r="1.0"/>
<circle cx="481.9" cy="154.3" r="1.0"/>
<circle cx="487.7" cy="197.9" r="1.0"/>
<circle cx="481.1" cy="147.2" r="1.0"/>
<circle cx="480.0" cy="196.3" r="1.0"/>
<circle cx="482.4" cy="155.9" r="1.0"/>
<circle cx="480.6" cy="142.0" r="1.0"/>
<circle cx="481.9" cy="160.6" r="1.0"/>
<circle cx="480.7" cy="197.6" r="1.0"/>
<circle cx="487.1" cy="148.3" r="1.0"/>
<circle cx="486.4" cy="164.3" r="1.0"/>
<circle cx="485.8" cy="176.4" r="1.0"/>
<circle cx="479.6" cy="155.5" r="1.0"/>
<circle cx="482.7" cy="184.2" r="1.0"/>
<circle cx="484.7" cy="171.3" r="1.0"/>
<circle cx="480.8" cy="183.9" r="1.0"/>
<circle cx="487.2" cy="158.6" r="1.0"/>
<circle cx="480.9" cy="169.4" r="1.0"/>
<circle cx="480.6" cy="176.0" r="1.0"/>
<circle cx="478.4" cy="185.1" r="1.0"/>
<circle cx="483.7" cy="188.7" r="1.0"/>
<circle cx="487.4" cy="158.0" r="1.0"/>
<circle cx="480.5" cy="152.3" r="1.0"/>
<circle cx="483.5" cy="203.5" r="1.0"/>
<circle cx="484.8" cy="237.7" r="1.0"/>
<circle cx="486.1" cy="220.6" r="1.0"/>
<circle cx="481.1" cy="205.6" r="1.0"/>
<circle cx="487.7" cy="232.2" r="1.0"/>
<circle cx="485.0" cy="231.7" r="1.0"/>
<circle cx="482.0" cy="238.7" r="1.0"/>
<circle cx="485.5" cy="247.0" r="1.0"/>
<circle cx="482.0" cy="217.1" r="1.0"/>
<circle cx="481.5" cy="240.3" r="1.0"/>
<circle cx="486.7" cy="209.3" r="1.0"/>
<circle cx="483.2" cy="226.6" r="1.0"/>
<circle cx="487.0" cy="233.5" r="1.0"/>
<circle cx="481.4" cy="206.7" r="1.0"/>
<circle cx="482.2" cy="203.3" r="1.0"/>
<circle cx="486.5" cy="225.1" r="1.0"/>
<circle cx="483.8" cy="233.4" r="1.0"/>
<circle cx="483.8" cy="220.2" r="1.0"/>
<circle cx="486.5" cy="213.7" r="1.0"/>
<circle cx="486.4" cy="239.4" r="1.0"/>
<circle cx="484.7" cy="207.6" r="1.0"/>
<circle cx="483.0" cy="237.7" r="1.0"/>
<circle cx="487.0" cy="244.9" r="1.0"/>
<circle cx="486.2" cy="237.2" r="1.0"/>
<circle cx="486.8" cy="232.4" r="1.0"/>
<circle cx="485.1" cy="206.6" r="1.0"/>
<circle cx="484.2" cy="235.2" r="1.0"/>
<circle cx="478.7" cy="213.8" r="1.0"/>
<circle cx="486.3" cy="277.8" r="1.0"/>
<circle cx="480.2" cy="262.6" r="1.0"/>
<circle cx="479.0" cy="260.3" r="1.0"/>
<circle cx="487.8" cy="281.1" r="1.0"/>
<circle cx="481.6" cy="286.9" r="1.0"/>
<circle cx="478.8" cy="282.2" r="1.0"/>
<circle cx="481.3" cy="288.6" r="1.0"/>
<circle cx="484.3" cy="250.2" r="1.0"/>
<circle cx="480.8" cy="256.4" r="1.0"/>
<circle cx="482.5" cy="252.7" r="1.0"/>
<circle cx="486.1" cy="275.5" r="1.0"/>
<circle cx="486.3" cy="251.8" r="1.0"/>
<circle cx="480.3" cy="255.1" r="1.0"/>
<circle cx="481.4" cy="279.0" r="1.0"/>
<circle cx="483.7" cy="265.2" r="1.0"/>
<circle cx="486.0" cy="260.0" r="1.0"/>
<circle cx="486.4" cy="259.6" r="1.0"/>
<circle cx="483.4" cy="287.2" r="1.0"/>
<circle cx="485.8" cy="251.4" r="1.0"/>
<circle cx="483.1" cy="251.3" r="1.0"/>
<circle cx="478.7" cy="269.5" r="1.0"/>
<circle cx="485.3" cy="279.0" r="1.0"/>
<circle cx="482.0" cy="276.9" r="1.0"/>
<circle cx="483.9" cy="273.6" r="1.0"/>
<circle cx="486.7" cy="260.4" r="1.0"/>
<circle cx="486.1" cy="295.8" r="1.0"/>
<circle cx="481.3" cy="294.2" r="1.0"/>
<circle cx="478.7" cy="295.4" r="1.0"/>
<circle cx="479.4" cy="272.0" r="1.0"/>
<circle cx="484.9" cy="270.9" r="1.0"/>
<circle cx="482.6" cy="282.6" r="1.0"/>
<circle cx="479.9" cy="265.7" r="1.0"/>
<circle cx="480.9" cy="268.5" r="1.0"/>
<circle cx="485.4" cy="258.9" r="1.0"/>
<circle cx="482.4" cy="327.5" r="1.0"/>
<circle cx="485.1" cy="308.1" r="1.0"/>
<circle cx="480.7" cy="308.0" r="1.0"/>
<circle cx="485.0" cy="330.2" r="1.0"/>
<circle cx="485.5" cy="355.4" r="1.0"/>
<circle cx="487.2" cy="353.8" r="1.0"/>
<circle cx="485.2" cy="340.1" r="1.0"/>
<circle cx="480.1" cy="299.8" r="1.0"/>
<circle cx="486.7" cy="296.8" r="1.0"/>
<circle cx="484.3" cy="340.0" r="1.0"/>
<circle cx="481.6" cy="312.1" r="1.0"/>
<circle cx="484.4" cy="306.0" r="1.0"/>
<circle cx="481.1" cy="356.5" r="1.0"/>
<circle cx="479.8" cy="298.7" r="1.0"/>
<circle cx="487.0" cy="317.7" r="1.0"/>
<circle cx="482.6" cy="345.1" r="1.0"/>
<circle cx="479.1" cy="302.2" r="1.0"/>
<circle cx="485.8" cy="305.4" r="1.0"/>
<circle cx="487.9" cy="324.7" r="1.0"/>
<circle cx="486.0" cy="351.6" r="1.0"/>
<circle cx="486.2" cy="325.1" r="1.0"/>
<circle cx="479.1" cy="303.8" r="1.0"/>
<circle cx="483.1" cy="330.4" r="1.0"/>
<circle cx="480.5" cy="308.8" r="1.0"/>
<circle cx="487.1" cy="297.3" r="1.0"/>
<circle cx="487.5" cy="339.3" r="1.0"/>
<circle cx="482.4" cy="355.8" r="1.0"/>
<circle cx="481.9" cy="340.7" r="1.0"/>
<circle cx="486.4" cy="345.5" r="1.0"/>
<circle cx="478.2" cy="304.2" r="1.0"/>
<circle cx="483.9" cy="309.1" r="1.0"/>
<circle cx="478.1" cy="319.1" r="1.0"/>
<circle cx="485.9" cy="346.6" r="1.0"/>
<circle cx="478.5" cy="324.3" r="1.0"/>
<circle cx="483.4" cy="350.2" r="1.0"/>
<circle cx="481.3" cy="300.3" r="1.0"/>
<circle cx="486.9" cy="334.1" r="1.0"/>
<circle cx="484.4" cy="325.6" r="1.0"/>
<circle cx="480.5" cy="308.5" r="1.0"/>
<circle cx="481.9" cy="351.3" r="1.0"/>
<circle cx="483.9" cy="302.3" r="1.0"/>
<circle cx="480.0" cy="303.7" r="1.0"/>
<circle cx="483.9" cy="323.8" r="1.0"/>
<circle cx="485.1" cy="334.8" r="1.0"/>
<circle cx="478.7" cy="322.8" r="1.0"/>
<circle cx="478.6" cy="340.2" r="1.0"/>
<circle cx="482.0" cy="324.7" r="1.0"/>
<circle cx="485.2" cy="337.0" r="1.0"/>
<circle cx="484.5" cy="310.6" r="1.0"/>
<circle cx="482.7" cy="338.2" r="1.0"/>
<circle cx="487.1" cy="304.6" r="1.0"/>
<circle cx="478.7" cy="332.5" r="1.0"/>
<circle cx="487.9" cy="310.6" r="1.0"/>
<circle cx="482.0" cy="310.0" r="1.0"/>
<circle cx="486.3" cy="344.1" r="1.0"/>
<circle cx="485.4" cy="334.7" r="1.0"/>
<circle cx="479.0" cy="298.3" r="1.0"/>
<circle cx="486.1" cy="355.5" r="1.0"/>
<circle cx="478.5" cy="298.3" r="1.0"/>
<circle cx="487.3" cy="310.7" r="1.0"/>
<circle cx="484.7" cy="309.4" r="1.0"/>
<circle cx="484.4" cy="352.8" r="1.0"/>
<circle cx="480.7" cy="352.1" r="1.0"/>
<circle cx="478.2" cy="305.4" r="1.0"/>
<circle cx="479.1" cy="342.2" r="1.0"/>
<circle cx="485.1" cy="355.4" r="1.0"/>
<circle cx="486.1" cy="307.4" r="1.0"/>
<circle cx="483.2" cy="305.9" r="1.0"/>
<circle cx="485.9" cy="302.5" r="1.0"/>
<circle cx="487.2" cy="350.3" r="1.0"/>
<circle cx="486.5" cy="296.1" r="1.0"/>
<circle cx="486.2" cy="329.9" r="1.0"/>
<circle cx="484.2" cy="326.7" r="1.0"/>
<circle cx="486.0" cy="332.3" r="1.0"/>
<circle cx="478.6" cy="300.7" r="1.0"/>
<circle cx="480.9" cy="329.3" r="1.0"/>
<circle cx="478.1" cy="320.2" r="1.0"/>
<circle cx="478.3" cy="341.4" r="1.0"/>
<circle cx="486.1" cy="346.6" r="1.0"/>
<circle cx="479.3" cy="323.9" r="1.0"/>
<circle cx="480.1" cy="335.7" r="1.0"/>
<circle cx="479.1" cy="322.2" r="1.0"/>
<circle cx="483.5" cy="355.6" r="1.0"/>
<circle cx="479.0" cy="317.5" r="1.0"/>
<circle cx="486.5" cy="340.5" r="1.0"/>
<circle cx="479.0" cy="347.7" r="1.0"/>
<circle cx="481.1" cy="318.4" r="1.0"/>
<circle cx="479.5" cy="342.5" r="1.0"/>
<circle cx="487.8" cy="333.0" r="1.0"/>
<circle cx="478.1" cy="342.9" r="1.0"/>
<circle cx="479.2" cy="300.6" r="1.0"/>
<circle cx="484.0" cy="338.2" r="1.0"/>
<circle cx="482.6" cy="327.7" r="1.0"/>
<circle cx="484.1" cy="320.9" r="1.0"/>
<circle cx="487.2" cy="335.6" r="1.0"/>
<circle cx="486.0" cy="340.7" r="1.0"/>
<circle cx="486.4" cy="351.7" r="1.0"/>
<circle cx="478.3" cy="339.7" r="1.0"/>
<circle cx="486.5" cy="337.5" r="1.0"/>
<circle cx="486.8" cy="322.3" r="1.0"/>
<circle cx="487.5" cy="307.0" r="1.0"/>
<circle cx="485.1" cy="322.9" r="1.0"/>
<circle cx="481.0" cy="311.4" r="1.0"/>
<circle cx="481.3" cy="317.3" r="1.0"/>
<circle cx="482.5" cy="301.8" r="1.0"/>
<circle cx="484.6" cy="355.8" r="1.0"/>
<circle cx="485.7" cy="352.9" r="1.0"/>
<circle cx="488.0" cy="347.0" r="1.0"/>
<circle cx="480.8" cy="341.9" r="1.0"/>
<circle cx="482.2" cy="311.2" r="1.0"/>
</g>
<g stroke="#1a1a1a" stroke-width="0.95" fill="none">
<line x1="63.90" x2="63.90" y1="343.1" y2="351.3"/>
<line x1="59.50" x2="68.30" y1="343.1" y2="343.1"/>
<line x1="59.50" x2="68.30" y1="351.3" y2="351.3"/>
<line x1="110.47" x2="110.47" y1="343.1" y2="351.3"/>
<line x1="106.07" x2="114.87" y1="343.1" y2="343.1"/>
<line x1="106.07" x2="114.87" y1="351.3" y2="351.3"/>
<line x1="157.04" x2="157.04" y1="343.1" y2="351.3"/>
<line x1="152.64" x2="161.44" y1="343.1" y2="343.1"/>
<line x1="152.64" x2="161.44" y1="351.3" y2="351.3"/>
<line x1="203.61" x2="203.61" y1="343.1" y2="351.3"/>
<line x1="199.21" x2="208.01" y1="343.1" y2="343.1"/>
<line x1="199.21" x2="208.01" y1="351.3" y2="351.3"/>
<line x1="250.18" x2="250.18" y1="331.0" y2="351.3"/>
<line x1="245.78" x2="254.58" y1="331.0" y2="331.0"/>
<line x1="245.78" x2="254.58" y1="351.3" y2="351.3"/>
<line x1="296.75" x2="296.75" y1="309.6" y2="351.0"/>
<line x1="292.35" x2="301.15" y1="309.6" y2="309.6"/>
<line x1="292.35" x2="301.15" y1="351.0" y2="351.0"/>
<line x1="343.32" x2="343.32" y1="334.9" y2="351.0"/>
<line x1="338.92" x2="347.72" y1="334.9" y2="334.9"/>
<line x1="338.92" x2="347.72" y1="351.0" y2="351.0"/>
<line x1="389.89" x2="389.89" y1="319.7" y2="351.0"/>
<line x1="385.49" x2="394.29" y1="319.7" y2="319.7"/>
<line x1="385.49" x2="394.29" y1="351.0" y2="351.0"/>
<line x1="436.46" x2="436.46" y1="286.6" y2="351.3"/>
<line x1="432.06" x2="440.86" y1="286.6" y2="286.6"/>
<line x1="432.06" x2="440.86" y1="351.3" y2="351.3"/>
<line x1="483.03" x2="483.03" y1="135.6" y2="351.0"/>
<line x1="478.63" x2="487.43" y1="135.6" y2="135.6"/>
<line x1="478.63" x2="487.43" y1="351.0" y2="351.0"/>
</g>
<rect x="47.00" y="348.06" width="33.80" height="56.34" fill="#5f7fc3" fill-opacity="0.5" stroke="#222" stroke-width="0.9"/>
<rect x="93.57" y="348.06" width="33.80" height="56.34" fill="#db5d65" fill-opacity="0.5" stroke="#222" stroke-width="0.9"/>
<rect x="140.14" y="348.06" width="33.80" height="56.34" fill="#fdbd4f" fill-opacity="0.5" stroke="#222" stroke-width="0.9"/>
<rect x="186.71" y="348.06" width="33.80" height="56.34" fill="#bf8d51" fill-opacity="0.5" stroke="#222" stroke-width="0.9"/>
<rect x="233.28" y="344.34" width="33.80" height="60.06" fill="#6f6f6f" fill-opacity="0.5" stroke="#222" stroke-width="0.9"/>
<rect x="279.85" y="337.43" width="33.80" height="66.97" fill="#ff5d51" fill-opacity="0.5" stroke="#222" stroke-width="0.9"/>
<rect x="326.42" y="346.47" width="33.80" height="57.93" fill="#5d9f69" fill-opacity="0.5" stroke="#222" stroke-width="0.9"/>
<rect x="372.99" y="338.49" width="33.80" height="65.91" fill="#d189c1" fill-opacity="0.5" stroke="#222" stroke-width="0.9"/>
<rect x="419.56" y="333.18" width="33.80" height="71.22" fill="#89cf69" fill-opacity="0.5" stroke="#222" stroke-width="0.9"/>
<rect x="466.13" y="295.97" width="33.80" height="108.43" fill="#7bd1e1" fill-opacity="0.5" stroke="#222" stroke-width="0.9"/>
<circle cx="63.90" cy="348.06" r="2.8" fill="#000"/>
<text class="s" x="69.20" y="345.36" font-size="8.2" fill="#1a1a1a">1.06</text>
<circle cx="110.47" cy="348.06" r="2.8" fill="#000"/>
<text class="s" x="115.77" y="345.36" font-size="8.2" fill="#1a1a1a">1.06</text>
<circle cx="157.04" cy="348.06" r="2.8" fill="#000"/>
<text class="s" x="162.34" y="345.36" font-size="8.2" fill="#1a1a1a">1.06</text>
<circle cx="203.61" cy="348.06" r="2.8" fill="#000"/>
<text class="s" x="208.91" y="345.36" font-size="8.2" fill="#1a1a1a">1.06</text>
<circle cx="250.18" cy="344.34" r="2.8" fill="#000"/>
<text class="s" x="255.48" y="341.64" font-size="8.2" fill="#1a1a1a">1.13</text>
<circle cx="296.75" cy="337.43" r="2.8" fill="#000"/>
<text class="s" x="302.05" y="334.73" font-size="8.2" fill="#1a1a1a">1.26</text>
<circle cx="343.32" cy="346.47" r="2.8" fill="#000"/>
<text class="s" x="348.62" y="343.77" font-size="8.2" fill="#1a1a1a">1.09</text>
<circle cx="389.89" cy="338.49" r="2.8" fill="#000"/>
<text class="s" x="395.19" y="335.79" font-size="8.2" fill="#1a1a1a">1.24</text>
<circle cx="436.46" cy="333.18" r="2.8" fill="#000"/>
<text class="s" x="441.76" y="330.48" font-size="8.2" fill="#1a1a1a">1.34</text>
<circle cx="483.03" cy="295.97" r="2.8" fill="#000"/>
<text class="s" x="488.33" y="293.27" font-size="8.2" fill="#1a1a1a">2.04</text>
<g stroke="#333" stroke-width="1.05" fill="none">
<path d="M63.90 192.70 V189.50 H110.47 V192.70"/>
<path d="M63.90 179.30 V176.10 H157.04 V179.30"/>
<path d="M63.90 165.70 V162.50 H203.61 V165.70"/>
<path d="M63.90 152.40 V149.20 H250.18 V152.40"/>
<path d="M63.90 139.20 V136.00 H296.75 V139.20"/>
<path d="M63.90 126.00 V122.80 H343.32 V126.00"/>
<path d="M63.90 112.70 V109.50 H389.89 V112.70"/>
<path d="M63.90 99.40 V96.20 H436.46 V99.40"/>
<path d="M250.18 232.60 V229.40 H296.75 V232.60"/>
<path d="M296.75 205.70 V202.50 H389.89 V205.70"/>
<path d="M343.32 179.00 V175.80 H436.46 V179.00"/>
</g>
<text class="s" x="87.19" y="185.90" font-size="8.3" fill="#222" text-anchor="middle">0.32</text>
<text class="s" x="110.47" y="172.50" font-size="8.3" fill="#222" text-anchor="middle">0.064</text>
<text class="s" x="133.75" y="158.90" font-size="8.3" fill="#222" text-anchor="middle">0.59</text>
<text class="s" x="134.09" y="145.60" font-size="8.3" fill="#222">p &lt; 2.22×10<tspan font-size="5.6" dx="0.2" dy="-3.3">-16</tspan></text>
<text class="s" x="157.37" y="132.40" font-size="8.3" fill="#222">p &lt; 2.22×10<tspan font-size="5.6" dx="0.2" dy="-3.3">-16</tspan></text>
<text class="s" x="190.00" y="119.20" font-size="8.3" fill="#222">9.3×10<tspan font-size="5.6" dx="0.2" dy="-3.3">-16</tspan></text>
<text class="s" x="203.94" y="105.90" font-size="8.3" fill="#222">p &lt; 2.22×10<tspan font-size="5.6" dx="0.2" dy="-3.3">-16</tspan></text>
<text class="s" x="227.23" y="92.60" font-size="8.3" fill="#222">p &lt; 2.22×10<tspan font-size="5.6" dx="0.2" dy="-3.3">-16</tspan></text>
<text class="s" x="250.51" y="225.80" font-size="8.3" fill="#222">p &lt; 2.22×10<tspan font-size="5.6" dx="0.2" dy="-3.3">-16</tspan></text>
<text class="s" x="343.32" y="198.90" font-size="8.3" fill="#222" text-anchor="middle">0.01</text>
<text class="s" x="366.94" y="172.20" font-size="8.3" fill="#222">p &lt; 2.22×10<tspan font-size="5.6" dx="0.2" dy="-3.3">-16</tspan></text>
<text class="s" x="64.0" y="81.5" font-size="12.9" fill="#111">Kruskal-Wallis, p &lt; 2.2×10<tspan font-size="10" dy="-5.8">-16</tspan></text>
<rect x="36.00" y="58.60" width="474.90" height="361.80" fill="none" stroke="#555" stroke-width="1.4"/>
<line x1="36.0" x2="40.0" y1="404.40" y2="404.40" stroke="#333" stroke-width="1.2"/>
<text class="r g" x="31.2" y="408.10" font-size="11" fill="#4d4d4d" text-anchor="end">0</text>
<line x1="36.0" x2="40.0" y1="298.10" y2="298.10" stroke="#333" stroke-width="1.2"/>
<text class="r g" x="31.2" y="301.80" font-size="11" fill="#4d4d4d" text-anchor="end">2</text>
<line x1="36.0" x2="40.0" y1="191.80" y2="191.80" stroke="#333" stroke-width="1.2"/>
<text class="r g" x="31.2" y="195.50" font-size="11" fill="#4d4d4d" text-anchor="end">4</text>
<line x1="36.0" x2="40.0" y1="85.50" y2="85.50" stroke="#333" stroke-width="1.2"/>
<text class="r g" x="31.2" y="89.20" font-size="11" fill="#4d4d4d" text-anchor="end">6</text>
<text class="r g" font-size="10.2" fill="#4d4d4d" text-anchor="end" transform="translate(62.90 425.60) rotate(-41)" dy="0.72em">DSO</text>
<text class="r g" font-size="10.2" fill="#4d4d4d" text-anchor="end" transform="translate(109.47 425.60) rotate(-41)" dy="0.72em">LDSO</text>
<text class="r g" font-size="10.2" fill="#4d4d4d" text-anchor="end" transform="translate(156.04 425.60) rotate(-41)" dy="0.72em">CNN-DSO</text>
<text class="r g" font-size="10.2" fill="#4d4d4d" text-anchor="end" transform="translate(202.61 425.60) rotate(-41)" dy="0.72em">DSM</text>
<text class="r g" font-size="10.2" fill="#4d4d4d" text-anchor="end" transform="translate(249.18 425.60) rotate(-41)" dy="0.72em">DynaSLAM</text>
<text class="r g" font-size="10.2" fill="#4d4d4d" text-anchor="end" transform="translate(295.75 425.60) rotate(-41)" dy="0.72em">ORB-SLAM2</text>
<text class="r g" font-size="10.2" fill="#4d4d4d" text-anchor="end" transform="translate(342.32 425.60) rotate(-41)" dy="0.72em">CNN-SVO</text>
<text class="r g" font-size="10.2" fill="#4d4d4d" text-anchor="end" transform="translate(388.89 425.60) rotate(-41)" dy="0.72em">DF-ORB-SLAM</text>
<text class="r g" font-size="10.2" fill="#4d4d4d" text-anchor="end" transform="translate(435.46 425.60) rotate(-41)" dy="0.72em">SVO</text>
<text class="r g" font-size="10.2" fill="#4d4d4d" text-anchor="end" transform="translate(482.03 425.60) rotate(-41)" dy="0.72em">LSD-SLAM</text>
<text class="r" x="273.7" y="494.1" font-size="13" fill="#111" text-anchor="middle">Method</text>
<text class="r" font-size="13" fill="#111" text-anchor="middle" transform="translate(15.8 239.6) rotate(-90)">Scale error</text>
<text class="r" x="259.4" y="542.9" font-size="19.5" fill="#111" text-anchor="middle">(<tspan font-weight="bold" font-size="17">c</tspan>)</text>
</g>
</svg></body></html>
